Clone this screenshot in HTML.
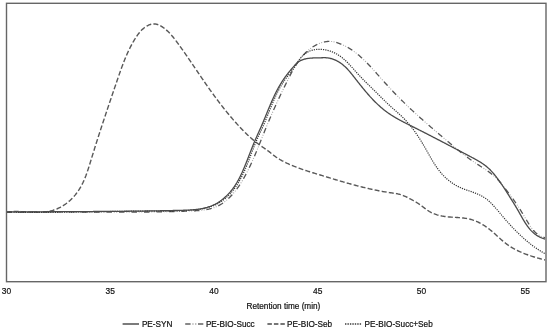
<!DOCTYPE html>
<html><head><meta charset="utf-8"><style>
html,body{margin:0;padding:0;background:#fff;}
svg{display:block;}
text{font-family:"Liberation Sans",Arial,sans-serif;fill:#111;stroke:#111;stroke-width:0.22;}
</style></head><body>
<svg width="550" height="330" viewBox="0 0 550 330">
<rect x="0" y="0" width="550" height="330" fill="#fff"/>
<g fill="none" stroke-linejoin="round">
<path d="M6.50,212.10 L7.19,212.01 L7.89,211.92 L8.59,211.85 L9.28,211.78 L9.98,211.72 L10.68,211.67 L11.38,211.62 L12.08,211.59 L12.78,211.56 L13.48,211.53 L14.18,211.51 L14.88,211.50 L15.58,211.49 L16.28,211.49 L16.98,211.49 L17.68,211.50 L18.38,211.51 L19.08,211.52 L19.78,211.54 L20.48,211.56 L21.18,211.58 L21.88,211.61 L22.58,211.64 L23.28,211.67 L23.98,211.70 L24.68,211.73 L25.38,211.76 L26.08,211.80 L26.78,211.83 L27.48,211.87 L28.18,211.90 L28.88,211.93 L29.58,211.97 L30.28,212.00 L30.98,212.03 L31.68,212.05 L32.38,212.08 L33.08,212.10 L33.78,212.13 L34.48,212.14 L35.18,212.16 L35.88,212.17 L36.58,212.18 L37.28,212.18 L37.98,212.18 L38.68,212.17 L39.38,212.16 L40.08,212.14 L40.78,212.12 L41.48,212.09 L42.18,212.05 L42.88,212.01 L43.58,211.96 L44.28,211.90 L44.98,211.84 L45.67,211.76 L46.37,211.68 L47.06,211.59 L47.76,211.49 L48.45,211.37 L49.14,211.25 L49.82,211.12 L50.51,210.97 L51.19,210.81 L51.87,210.63 L52.54,210.45 L53.22,210.25 L53.88,210.03 L54.55,209.81 L55.21,209.57 L55.86,209.32 L56.51,209.06 L57.16,208.79 L57.80,208.51 L58.43,208.22 L59.07,207.91 L59.69,207.60 L60.31,207.28 L60.93,206.95 L61.54,206.60 L62.15,206.25 L62.75,205.89 L63.34,205.52 L63.93,205.14 L64.51,204.75 L65.09,204.35 L65.66,203.95 L66.23,203.54 L66.79,203.11 L67.34,202.68 L67.89,202.24 L68.43,201.80 L68.96,201.35 L69.49,200.88 L70.01,200.42 L70.52,199.94 L71.03,199.46 L71.53,198.97 L72.03,198.47 L72.52,197.97 L73.00,197.46 L73.47,196.95 L73.94,196.43 L74.40,195.90 L74.85,195.36 L75.30,194.83 L75.74,194.28 L76.17,193.73 L76.60,193.17 L77.02,192.61 L77.43,192.05 L77.84,191.47 L78.23,190.90 L78.62,190.32 L79.01,189.73 L79.38,189.14 L79.75,188.54 L80.11,187.94 L80.47,187.34 L80.82,186.73 L81.16,186.12 L81.49,185.50 L81.82,184.88 L82.14,184.26 L82.45,183.63 L82.76,183.01 L83.06,182.37 L83.36,181.74 L83.65,181.10 L83.94,180.46 L84.22,179.82 L84.49,179.18 L84.76,178.53 L85.03,177.88 L85.29,177.23 L85.54,176.58 L85.80,175.93 L86.04,175.27 L86.29,174.61 L86.53,173.96 L86.77,173.30 L87.00,172.64 L87.23,171.97 L87.46,171.31 L87.68,170.65 L87.90,169.98 L88.12,169.32 L88.34,168.65 L88.55,167.99 L88.77,167.32 L88.98,166.65 L89.19,165.98 L89.40,165.31 L89.61,164.64 L89.81,163.98 L90.02,163.31 L90.22,162.64 L90.43,161.97 L90.63,161.30 L90.84,160.63 L91.04,159.96 L91.25,159.29 L91.45,158.62 L91.66,157.95 L91.86,157.28 L92.07,156.61 L92.27,155.94 L92.48,155.27 L92.69,154.60 L92.90,153.93 L93.10,153.26 L93.31,152.59 L93.52,151.92 L93.73,151.25 L93.94,150.59 L94.15,149.92 L94.35,149.25 L94.56,148.58 L94.77,147.91 L94.98,147.24 L95.19,146.58 L95.41,145.91 L95.62,145.24 L95.83,144.57 L96.04,143.90 L96.25,143.24 L96.46,142.57 L96.68,141.90 L96.89,141.23 L97.10,140.57 L97.31,139.90 L97.53,139.23 L97.74,138.56 L97.95,137.90 L98.17,137.23 L98.38,136.56 L98.60,135.90 L98.81,135.23 L99.03,134.56 L99.24,133.90 L99.46,133.23 L99.67,132.56 L99.89,131.90 L100.11,131.23 L100.32,130.56 L100.54,129.90 L100.76,129.23 L100.97,128.57 L101.19,127.90 L101.41,127.24 L101.63,126.57 L101.85,125.90 L102.06,125.24 L102.28,124.57 L102.50,123.91 L102.72,123.24 L102.94,122.58 L103.16,121.91 L103.38,121.25 L103.60,120.58 L103.82,119.92 L104.04,119.25 L104.26,118.59 L104.48,117.92 L104.70,117.26 L104.92,116.59 L105.14,115.93 L105.36,115.26 L105.58,114.60 L105.80,113.93 L106.03,113.27 L106.25,112.60 L106.47,111.94 L106.69,111.27 L106.91,110.61 L107.14,109.95 L107.36,109.28 L107.58,108.62 L107.81,107.95 L108.03,107.29 L108.25,106.63 L108.48,105.96 L108.70,105.30 L108.92,104.63 L109.15,103.97 L109.37,103.31 L109.59,102.64 L109.82,101.98 L110.04,101.32 L110.27,100.65 L110.49,99.99 L110.72,99.32 L110.94,98.66 L111.17,98.00 L111.39,97.33 L111.62,96.67 L111.84,96.01 L112.07,95.34 L112.29,94.68 L112.52,94.02 L112.74,93.36 L112.97,92.69 L113.20,92.03 L113.42,91.37 L113.65,90.70 L113.87,90.04 L114.10,89.38 L114.33,88.71 L114.55,88.05 L114.78,87.39 L115.01,86.73 L115.23,86.06 L115.46,85.40 L115.69,84.74 L115.91,84.07 L116.14,83.41 L116.37,82.75 L116.59,82.09 L116.82,81.42 L117.05,80.76 L117.28,80.10 L117.50,79.44 L117.73,78.77 L117.96,78.11 L118.19,77.45 L118.41,76.79 L118.64,76.12 L118.87,75.46 L119.10,74.80 L119.33,74.14 L119.56,73.48 L119.79,72.82 L120.03,72.15 L120.26,71.49 L120.49,70.83 L120.73,70.17 L120.96,69.51 L121.20,68.86 L121.44,68.20 L121.68,67.54 L121.92,66.88 L122.16,66.22 L122.41,65.57 L122.66,64.91 L122.90,64.26 L123.15,63.60 L123.40,62.95 L123.66,62.29 L123.91,61.64 L124.17,60.99 L124.43,60.34 L124.69,59.69 L124.95,59.04 L125.22,58.39 L125.49,57.75 L125.76,57.10 L126.03,56.45 L126.31,55.81 L126.58,55.17 L126.87,54.53 L127.15,53.89 L127.44,53.25 L127.73,52.61 L128.02,51.97 L128.31,51.34 L128.61,50.70 L128.91,50.07 L129.22,49.44 L129.52,48.81 L129.84,48.18 L130.15,47.56 L130.47,46.93 L130.79,46.31 L131.11,45.69 L131.44,45.07 L131.78,44.45 L132.11,43.84 L132.45,43.23 L132.79,42.62 L133.14,42.01 L133.49,41.40 L133.85,40.80 L134.20,40.20 L134.57,39.60 L134.93,39.00 L135.30,38.40 L135.68,37.81 L136.06,37.22 L136.45,36.64 L136.84,36.06 L137.24,35.48 L137.64,34.91 L138.05,34.35 L138.48,33.79 L138.90,33.23 L139.34,32.69 L139.79,32.15 L140.25,31.62 L140.72,31.10 L141.19,30.58 L141.68,30.08 L142.19,29.59 L142.70,29.12 L143.22,28.65 L143.76,28.20 L144.31,27.76 L144.87,27.34 L145.44,26.94 L146.02,26.55 L146.62,26.19 L147.23,25.84 L147.85,25.51 L148.48,25.21 L149.12,24.94 L149.78,24.69 L150.44,24.47 L151.12,24.29 L151.81,24.14 L152.50,24.03 L153.19,23.96 L153.89,23.93 L154.59,23.96 L155.29,24.03 L155.98,24.14 L156.67,24.29 L157.34,24.48 L158.00,24.71 L158.66,24.96 L159.30,25.24 L159.93,25.54 L160.55,25.86 L161.16,26.21 L161.76,26.57 L162.35,26.95 L162.93,27.34 L163.50,27.74 L164.07,28.16 L164.62,28.59 L165.17,29.03 L165.71,29.47 L166.24,29.93 L166.77,30.39 L167.29,30.86 L167.80,31.34 L168.30,31.82 L168.80,32.32 L169.29,32.81 L169.78,33.32 L170.26,33.83 L170.73,34.35 L171.20,34.87 L171.66,35.40 L172.11,35.93 L172.56,36.47 L173.01,37.01 L173.45,37.55 L173.89,38.10 L174.32,38.65 L174.75,39.20 L175.18,39.76 L175.60,40.32 L176.02,40.88 L176.44,41.44 L176.86,42.00 L177.28,42.56 L177.69,43.13 L178.11,43.69 L178.52,44.26 L178.93,44.82 L179.34,45.39 L179.75,45.96 L180.16,46.53 L180.57,47.10 L180.98,47.66 L181.39,48.23 L181.79,48.81 L182.20,49.38 L182.60,49.95 L183.01,50.52 L183.41,51.09 L183.81,51.67 L184.22,52.24 L184.62,52.81 L185.02,53.39 L185.42,53.96 L185.82,54.54 L186.22,55.12 L186.61,55.69 L187.01,56.27 L187.41,56.85 L187.81,57.42 L188.20,58.00 L188.60,58.58 L188.99,59.16 L189.39,59.73 L189.78,60.31 L190.18,60.89 L190.57,61.47 L190.97,62.05 L191.36,62.63 L191.75,63.21 L192.15,63.79 L192.54,64.37 L192.93,64.95 L193.33,65.53 L193.72,66.11 L194.11,66.69 L194.50,67.27 L194.90,67.85 L195.29,68.43 L195.68,69.01 L196.07,69.59 L196.46,70.17 L196.86,70.75 L197.25,71.33 L197.64,71.91 L198.03,72.49 L198.43,73.07 L198.82,73.65 L199.21,74.23 L199.61,74.81 L200.00,75.39 L200.39,75.97 L200.79,76.55 L201.18,77.13 L201.57,77.71 L201.97,78.29 L202.36,78.87 L202.76,79.44 L203.16,80.02 L203.55,80.60 L203.95,81.18 L204.35,81.75 L204.74,82.33 L205.14,82.91 L205.54,83.48 L205.94,84.06 L206.34,84.63 L206.74,85.21 L207.14,85.78 L207.54,86.36 L207.94,86.93 L208.35,87.51 L208.75,88.08 L209.15,88.65 L209.56,89.22 L209.96,89.79 L210.37,90.36 L210.78,90.93 L211.18,91.50 L211.59,92.07 L212.00,92.64 L212.41,93.21 L212.82,93.78 L213.23,94.35 L213.64,94.91 L214.06,95.48 L214.47,96.04 L214.88,96.61 L215.30,97.17 L215.72,97.74 L216.13,98.30 L216.55,98.86 L216.97,99.42 L217.39,99.98 L217.81,100.54 L218.23,101.10 L218.65,101.66 L219.08,102.22 L219.50,102.78 L219.92,103.34 L220.35,103.89 L220.78,104.45 L221.21,105.00 L221.63,105.56 L222.06,106.11 L222.50,106.66 L222.93,107.21 L223.36,107.76 L223.79,108.31 L224.23,108.86 L224.67,109.41 L225.10,109.96 L225.54,110.50 L225.98,111.05 L226.42,111.59 L226.86,112.14 L227.31,112.68 L227.75,113.22 L228.20,113.76 L228.64,114.30 L229.09,114.84 L229.54,115.38 L229.99,115.92 L230.44,116.45 L230.89,116.99 L231.34,117.52 L231.80,118.05 L232.26,118.59 L232.71,119.12 L233.17,119.65 L233.63,120.17 L234.09,120.70 L234.55,121.23 L235.02,121.75 L235.48,122.28 L235.95,122.80 L236.42,123.32 L236.88,123.84 L237.35,124.36 L237.83,124.88 L238.30,125.40 L238.77,125.91 L239.25,126.43 L239.73,126.94 L240.21,127.45 L240.69,127.96 L241.17,128.47 L241.65,128.98 L242.14,129.48 L242.62,129.98 L243.11,130.48 L243.60,130.98 L244.10,131.48 L244.59,131.98 L245.09,132.47 L245.59,132.96 L246.09,133.45 L246.59,133.94 L247.10,134.43 L247.61,134.91 L248.12,135.39 L248.63,135.87 L249.14,136.34 L249.66,136.81 L250.18,137.29 L250.70,137.75 L251.22,138.22 L251.75,138.68 L252.28,139.14 L252.81,139.60 L253.34,140.05 L253.88,140.50 L254.42,140.95 L254.96,141.39 L255.51,141.83 L256.05,142.27 L256.61,142.70 L257.16,143.13 L257.71,143.56 L258.27,143.98 L258.83,144.40 L259.40,144.81 L259.96,145.23 L260.53,145.63 L261.11,146.04 L261.68,146.44 L262.26,146.84 L262.83,147.24 L263.41,147.63 L263.99,148.03 L264.57,148.42 L265.14,148.82 L265.72,149.22 L266.29,149.62 L266.87,150.02 L267.44,150.43 L268.00,150.84 L268.57,151.26 L269.12,151.68 L269.68,152.11 L270.23,152.54 L270.77,152.98 L271.32,153.43 L271.86,153.87 L272.40,154.31 L272.95,154.75 L273.50,155.18 L274.06,155.61 L274.62,156.03 L275.18,156.44 L275.76,156.84 L276.33,157.24 L276.92,157.63 L277.50,158.01 L278.09,158.39 L278.69,158.76 L279.29,159.12 L279.89,159.48 L280.49,159.84 L281.10,160.18 L281.71,160.53 L282.33,160.86 L282.94,161.19 L283.56,161.52 L284.18,161.85 L284.81,162.16 L285.43,162.48 L286.06,162.79 L286.69,163.09 L287.32,163.40 L287.96,163.69 L288.60,163.99 L289.23,164.28 L289.87,164.56 L290.51,164.84 L291.16,165.12 L291.80,165.39 L292.45,165.66 L293.10,165.93 L293.75,166.19 L294.40,166.46 L295.05,166.71 L295.70,166.97 L296.35,167.22 L297.01,167.47 L297.67,167.71 L298.32,167.95 L298.98,168.19 L299.64,168.43 L300.30,168.67 L300.96,168.90 L301.62,169.13 L302.28,169.36 L302.95,169.58 L303.61,169.81 L304.28,170.03 L304.94,170.25 L305.61,170.47 L306.27,170.68 L306.94,170.90 L307.61,171.11 L308.27,171.33 L308.94,171.54 L309.61,171.75 L310.28,171.96 L310.95,172.17 L311.62,172.37 L312.28,172.58 L312.95,172.79 L313.62,172.99 L314.29,173.20 L314.96,173.40 L315.63,173.60 L316.30,173.81 L316.97,174.01 L317.64,174.22 L318.31,174.42 L318.99,174.62 L319.66,174.83 L320.33,175.03 L321.00,175.24 L321.67,175.44 L322.34,175.64 L323.01,175.85 L323.68,176.05 L324.35,176.26 L325.02,176.46 L325.69,176.67 L326.36,176.87 L327.03,177.07 L327.70,177.28 L328.37,177.48 L329.04,177.69 L329.71,177.89 L330.38,178.09 L331.05,178.30 L331.72,178.50 L332.39,178.70 L333.06,178.90 L333.73,179.11 L334.40,179.31 L335.07,179.51 L335.74,179.71 L336.41,179.91 L337.09,180.11 L337.76,180.31 L338.43,180.51 L339.10,180.71 L339.77,180.91 L340.44,181.10 L341.12,181.30 L341.79,181.50 L342.46,181.69 L343.13,181.89 L343.81,182.08 L344.48,182.28 L345.15,182.47 L345.83,182.66 L346.50,182.86 L347.17,183.05 L347.85,183.24 L348.52,183.43 L349.20,183.62 L349.87,183.80 L350.55,183.99 L351.22,184.18 L351.90,184.36 L352.57,184.55 L353.25,184.73 L353.93,184.91 L354.60,185.10 L355.28,185.28 L355.96,185.46 L356.63,185.64 L357.31,185.81 L357.99,185.99 L358.67,186.17 L359.35,186.34 L360.02,186.51 L360.70,186.69 L361.38,186.86 L362.06,187.03 L362.74,187.20 L363.42,187.36 L364.10,187.53 L364.78,187.69 L365.46,187.86 L366.15,188.02 L366.83,188.18 L367.51,188.34 L368.19,188.50 L368.87,188.65 L369.56,188.81 L370.24,188.96 L370.93,189.12 L371.61,189.27 L372.29,189.42 L372.98,189.56 L373.66,189.71 L374.35,189.85 L375.03,190.00 L375.72,190.14 L376.41,190.28 L377.09,190.42 L377.78,190.55 L378.47,190.69 L379.16,190.82 L379.84,190.95 L380.53,191.08 L381.22,191.21 L381.91,191.33 L382.60,191.46 L383.29,191.58 L383.98,191.70 L384.67,191.82 L385.36,191.93 L386.05,192.05 L386.74,192.16 L387.44,192.27 L388.13,192.38 L388.82,192.48 L389.51,192.59 L390.21,192.69 L390.90,192.79 L391.59,192.89 L392.29,192.99 L392.98,193.08 L393.67,193.19 L394.37,193.29 L395.06,193.40 L395.75,193.51 L396.44,193.63 L397.13,193.77 L397.81,193.91 L398.50,194.06 L399.18,194.23 L399.85,194.41 L400.53,194.60 L401.19,194.82 L401.86,195.04 L402.52,195.28 L403.17,195.53 L403.82,195.80 L404.46,196.07 L405.10,196.35 L405.74,196.64 L406.38,196.94 L407.01,197.25 L407.63,197.56 L408.26,197.88 L408.88,198.20 L409.50,198.52 L410.12,198.84 L410.74,199.17 L411.36,199.50 L411.98,199.84 L412.59,200.17 L413.20,200.51 L413.82,200.85 L414.42,201.20 L415.03,201.55 L415.63,201.91 L416.23,202.27 L416.83,202.63 L417.43,203.00 L418.02,203.38 L418.60,203.76 L419.18,204.16 L419.76,204.55 L420.33,204.96 L420.90,205.37 L421.46,205.78 L422.03,206.20 L422.58,206.62 L423.14,207.05 L423.70,207.47 L424.26,207.90 L424.82,208.32 L425.38,208.74 L425.94,209.15 L426.51,209.57 L427.08,209.97 L427.65,210.37 L428.24,210.76 L428.82,211.14 L429.42,211.51 L430.02,211.86 L430.64,212.21 L431.25,212.53 L431.88,212.85 L432.52,213.14 L433.16,213.43 L433.80,213.70 L434.45,213.96 L435.11,214.20 L435.77,214.43 L436.44,214.65 L437.11,214.86 L437.78,215.05 L438.46,215.23 L439.13,215.41 L439.82,215.57 L440.50,215.72 L441.19,215.86 L441.87,216.00 L442.56,216.12 L443.25,216.24 L443.95,216.35 L444.64,216.45 L445.33,216.54 L446.03,216.63 L446.72,216.71 L447.42,216.79 L448.12,216.86 L448.81,216.93 L449.51,216.99 L450.21,217.05 L450.91,217.10 L451.61,217.15 L452.31,217.20 L453.00,217.25 L453.70,217.29 L454.40,217.34 L455.10,217.38 L455.80,217.42 L456.50,217.46 L457.20,217.51 L457.90,217.56 L458.60,217.60 L459.30,217.65 L459.99,217.71 L460.69,217.77 L461.39,217.83 L462.09,217.90 L462.78,217.97 L463.48,218.05 L464.18,218.13 L464.87,218.22 L465.56,218.32 L466.26,218.43 L466.95,218.55 L467.64,218.67 L468.32,218.81 L469.01,218.96 L469.69,219.11 L470.37,219.28 L471.05,219.47 L471.72,219.66 L472.39,219.86 L473.05,220.08 L473.72,220.31 L474.38,220.55 L475.03,220.80 L475.68,221.06 L476.33,221.33 L476.97,221.61 L477.61,221.90 L478.24,222.19 L478.87,222.50 L479.50,222.82 L480.12,223.14 L480.73,223.48 L481.34,223.82 L481.95,224.17 L482.55,224.53 L483.15,224.89 L483.75,225.26 L484.34,225.64 L484.92,226.02 L485.50,226.41 L486.08,226.81 L486.65,227.22 L487.22,227.63 L487.78,228.04 L488.34,228.46 L488.90,228.89 L489.45,229.32 L490.00,229.75 L490.54,230.20 L491.09,230.64 L491.62,231.09 L492.16,231.54 L492.69,232.00 L493.22,232.46 L493.74,232.92 L494.27,233.39 L494.79,233.85 L495.31,234.32 L495.83,234.79 L496.35,235.26 L496.87,235.73 L497.39,236.20 L497.91,236.67 L498.42,237.14 L498.94,237.62 L499.46,238.08 L499.99,238.55 L500.51,239.02 L501.03,239.48 L501.56,239.94 L502.09,240.40 L502.62,240.86 L503.16,241.31 L503.70,241.76 L504.24,242.20 L504.78,242.64 L505.33,243.07 L505.89,243.50 L506.45,243.92 L507.01,244.34 L507.58,244.75 L508.15,245.15 L508.73,245.55 L509.31,245.94 L509.90,246.32 L510.49,246.70 L511.08,247.07 L511.68,247.43 L512.28,247.79 L512.89,248.14 L513.50,248.49 L514.11,248.83 L514.73,249.16 L515.35,249.49 L515.97,249.81 L516.59,250.13 L517.22,250.44 L517.85,250.75 L518.48,251.05 L519.12,251.34 L519.76,251.63 L520.39,251.92 L521.04,252.20 L521.68,252.48 L522.33,252.75 L522.97,253.02 L523.62,253.28 L524.27,253.54 L524.93,253.79 L525.58,254.04 L526.24,254.29 L526.89,254.53 L527.55,254.77 L528.21,255.00 L528.87,255.23 L529.54,255.46 L530.20,255.68 L530.87,255.91 L531.53,256.12 L532.20,256.34 L532.87,256.55 L533.53,256.76 L534.20,256.96 L534.87,257.17 L535.55,257.37 L536.22,257.57 L536.89,257.76 L537.56,257.96 L538.24,258.15 L538.91,258.34 L539.59,258.53 L540.26,258.72 L540.94,258.90 L541.61,259.08 L542.29,259.27 L542.97,259.45 L543.64,259.63 L544.32,259.80 L545.00,259.98" stroke="#585858" stroke-width="1.4" stroke-dasharray="5 2.2"/>
<path d="M6.49,212.31 L7.19,212.29 L7.89,212.28 L8.59,212.27 L9.29,212.25 L9.99,212.24 L10.69,212.23 L11.39,212.22 L12.09,212.20 L12.79,212.19 L13.49,212.18 L14.19,212.17 L14.89,212.16 L15.59,212.15 L16.29,212.14 L16.99,212.13 L17.69,212.12 L18.39,212.11 L19.09,212.10 L19.79,212.09 L20.49,212.08 L21.19,212.07 L21.89,212.06 L22.59,212.06 L23.29,212.05 L23.99,212.04 L24.69,212.03 L25.39,212.03 L26.09,212.02 L26.79,212.01 L27.49,212.01 L28.19,212.00 L28.89,212.00 L29.59,211.99 L30.29,211.98 L30.99,211.98 L31.69,211.97 L32.39,211.97 L33.09,211.96 L33.79,211.96 L34.49,211.96 L35.19,211.95 L35.89,211.95 L36.59,211.94 L37.29,211.94 L37.99,211.94 L38.69,211.93 L39.39,211.93 L40.09,211.93 L40.79,211.93 L41.49,211.92 L42.20,211.92 L42.90,211.92 L43.60,211.92 L44.30,211.92 L45.00,211.92 L45.70,211.91 L46.40,211.91 L47.10,211.91 L47.80,211.91 L48.50,211.91 L49.20,211.91 L49.90,211.91 L50.60,211.91 L51.30,211.91 L52.00,211.91 L52.70,211.91 L53.40,211.91 L54.10,211.91 L54.80,211.91 L55.50,211.91 L56.20,211.91 L56.90,211.91 L57.60,211.92 L58.30,211.92 L59.00,211.92 L59.70,211.92 L60.40,211.92 L61.10,211.92 L61.80,211.92 L62.50,211.93 L63.20,211.93 L63.90,211.93 L64.60,211.93 L65.30,211.93 L66.00,211.94 L66.70,211.94 L67.40,211.94 L68.10,211.94 L68.80,211.95 L69.50,211.95 L70.20,211.95 L70.90,211.95 L71.60,211.96 L72.30,211.96 L73.00,211.96 L73.70,211.97 L74.40,211.97 L75.10,211.97 L75.80,211.97 L76.50,211.98 L77.20,211.98 L77.90,211.98 L78.60,211.99 L79.30,211.99 L80.00,211.99 L80.70,212.00 L81.40,212.00 L82.10,212.00 L82.80,212.01 L83.50,212.01 L84.20,212.01 L84.90,212.02 L85.60,212.02 L86.30,212.02 L87.00,212.03 L87.70,212.03 L88.40,212.03 L89.10,212.04 L89.80,212.04 L90.50,212.04 L91.20,212.05 L91.90,212.05 L92.60,212.05 L93.30,212.06 L94.00,212.06 L94.70,212.06 L95.40,212.07 L96.10,212.07 L96.80,212.07 L97.50,212.08 L98.20,212.08 L98.90,212.08 L99.60,212.09 L100.30,212.09 L101.00,212.09 L101.70,212.09 L102.40,212.10 L103.10,212.10 L103.80,212.10 L104.50,212.10 L105.20,212.11 L105.91,212.11 L106.61,212.11 L107.31,212.11 L108.01,212.11 L108.71,212.12 L109.41,212.12 L110.11,212.12 L110.81,212.12 L111.51,212.12 L112.21,212.13 L112.91,212.13 L113.61,212.13 L114.31,212.13 L115.01,212.13 L115.71,212.13 L116.41,212.13 L117.11,212.13 L117.81,212.13 L118.51,212.13 L119.21,212.13 L119.91,212.13 L120.61,212.13 L121.31,212.13 L122.01,212.13 L122.71,212.13 L123.41,212.13 L124.11,212.13 L124.81,212.13 L125.51,212.13 L126.21,212.13 L126.91,212.13 L127.61,212.13 L128.31,212.12 L129.01,212.12 L129.71,212.12 L130.41,212.12 L131.11,212.11 L131.81,212.11 L132.51,212.11 L133.21,212.11 L133.91,212.10 L134.61,212.10 L135.31,212.10 L136.01,212.09 L136.71,212.09 L137.41,212.08 L138.11,212.08 L138.81,212.08 L139.51,212.07 L140.21,212.07 L140.91,212.06 L141.61,212.06 L142.31,212.05 L143.01,212.04 L143.71,212.04 L144.41,212.03 L145.11,212.03 L145.81,212.02 L146.51,212.01 L147.21,212.00 L147.91,212.00 L148.61,211.99 L149.31,211.98 L150.01,211.97 L150.71,211.96 L151.41,211.96 L152.11,211.95 L152.81,211.94 L153.51,211.93 L154.21,211.92 L154.91,211.91 L155.61,211.90 L156.31,211.89 L157.01,211.88 L157.71,211.86 L158.41,211.85 L159.11,211.84 L159.81,211.83 L160.51,211.82 L161.21,211.80 L161.91,211.79 L162.61,211.78 L163.31,211.76 L164.01,211.75 L164.71,211.74 L165.41,211.72 L166.11,211.71 L166.81,211.69 L167.51,211.68 L168.21,211.66 L168.91,211.65 L169.61,211.63 L170.31,211.61 L171.01,211.60 L171.71,211.58 L172.41,211.56 L173.11,211.54 L173.81,211.52 L174.51,211.51 L175.21,211.49 L175.91,211.47 L176.61,211.45 L177.31,211.43 L178.01,211.41 L178.71,211.39 L179.41,211.36 L180.11,211.34 L180.81,211.32 L181.51,211.30 L182.21,211.28 L182.91,211.25 L183.61,211.23 L184.31,211.21 L185.01,211.18 L185.71,211.16 L186.41,211.13 L187.11,211.11 L187.81,211.08 L188.51,211.06 L189.21,211.03 L189.91,211.00 L190.60,210.98 L191.30,210.95 L192.00,210.92 L192.70,210.89 L193.40,210.86 L194.10,210.83 L194.80,210.79 L195.50,210.75 L196.20,210.71 L196.90,210.67 L197.60,210.62 L198.30,210.57 L198.99,210.52 L199.69,210.46 L200.39,210.39 L201.08,210.33 L201.78,210.25 L202.48,210.17 L203.17,210.09 L203.87,210.00 L204.56,209.90 L205.25,209.79 L205.94,209.68 L206.63,209.56 L207.32,209.43 L208.01,209.29 L208.69,209.15 L209.37,208.99 L210.05,208.83 L210.73,208.65 L211.41,208.47 L212.08,208.27 L212.75,208.07 L213.41,207.85 L214.08,207.62 L214.73,207.38 L215.39,207.13 L216.04,206.87 L216.68,206.59 L217.32,206.30 L217.95,206.00 L218.57,205.68 L219.19,205.35 L219.80,205.01 L220.41,204.66 L221.01,204.30 L221.60,203.93 L222.19,203.55 L222.77,203.15 L223.34,202.75 L223.91,202.34 L224.47,201.92 L225.02,201.49 L225.57,201.05 L226.11,200.61 L226.64,200.16 L227.17,199.70 L227.69,199.23 L228.21,198.76 L228.72,198.28 L229.23,197.80 L229.73,197.31 L230.22,196.81 L230.71,196.31 L231.19,195.80 L231.67,195.29 L232.14,194.77 L232.60,194.25 L233.06,193.72 L233.52,193.19 L233.97,192.65 L234.42,192.11 L234.86,191.57 L235.29,191.02 L235.72,190.47 L236.15,189.91 L236.57,189.35 L236.99,188.79 L237.40,188.23 L237.81,187.66 L238.21,187.09 L238.61,186.51 L239.01,185.93 L239.40,185.35 L239.78,184.77 L240.16,184.18 L240.54,183.59 L240.92,183.00 L241.29,182.40 L241.65,181.81 L242.02,181.21 L242.38,180.61 L242.73,180.01 L243.09,179.40 L243.44,178.79 L243.78,178.19 L244.13,177.58 L244.47,176.97 L244.80,176.35 L245.14,175.74 L245.47,175.12 L245.80,174.50 L246.13,173.89 L246.46,173.27 L246.78,172.65 L247.10,172.02 L247.42,171.40 L247.74,170.77 L248.05,170.15 L248.36,169.52 L248.67,168.89 L248.98,168.27 L249.29,167.64 L249.59,167.00 L249.89,166.37 L250.19,165.74 L250.49,165.11 L250.78,164.47 L251.08,163.84 L251.37,163.20 L251.66,162.56 L251.95,161.93 L252.24,161.29 L252.52,160.65 L252.81,160.01 L253.09,159.37 L253.37,158.73 L253.65,158.09 L253.93,157.44 L254.21,156.80 L254.49,156.16 L254.76,155.51 L255.04,154.87 L255.31,154.23 L255.58,153.58 L255.85,152.94 L256.12,152.29 L256.39,151.64 L256.66,151.00 L256.93,150.35 L257.19,149.70 L257.46,149.05 L257.72,148.41 L257.99,147.76 L258.25,147.11 L258.51,146.46 L258.78,145.81 L259.04,145.16 L259.30,144.51 L259.56,143.86 L259.82,143.21 L260.08,142.56 L260.34,141.91 L260.60,141.26 L260.86,140.61 L261.12,139.96 L261.38,139.31 L261.64,138.66 L261.90,138.01 L262.16,137.36 L262.42,136.71 L262.68,136.06 L262.94,135.41 L263.20,134.76 L263.46,134.11 L263.72,133.46 L263.98,132.81 L264.24,132.16 L264.50,131.51 L264.76,130.86 L265.03,130.21 L265.29,129.56 L265.55,128.92 L265.82,128.27 L266.08,127.62 L266.35,126.97 L266.61,126.32 L266.88,125.68 L267.15,125.03 L267.42,124.38 L267.69,123.74 L267.96,123.09 L268.23,122.45 L268.50,121.80 L268.77,121.16 L269.04,120.51 L269.32,119.87 L269.59,119.22 L269.87,118.58 L270.14,117.93 L270.42,117.29 L270.70,116.65 L270.97,116.01 L271.25,115.36 L271.53,114.72 L271.81,114.08 L272.09,113.44 L272.37,112.80 L272.65,112.16 L272.93,111.51 L273.22,110.87 L273.50,110.23 L273.78,109.59 L274.07,108.95 L274.36,108.32 L274.64,107.68 L274.93,107.04 L275.22,106.40 L275.50,105.76 L275.79,105.12 L276.08,104.49 L276.37,103.85 L276.66,103.21 L276.95,102.58 L277.25,101.94 L277.54,101.30 L277.83,100.67 L278.13,100.03 L278.42,99.40 L278.72,98.76 L279.01,98.13 L279.31,97.49 L279.61,96.86 L279.90,96.23 L280.20,95.59 L280.50,94.96 L280.80,94.33 L281.10,93.69 L281.40,93.06 L281.70,92.43 L282.01,91.80 L282.31,91.17 L282.61,90.54 L282.92,89.91 L283.22,89.28 L283.53,88.65 L283.83,88.02 L284.14,87.39 L284.45,86.76 L284.75,86.13 L285.06,85.50 L285.37,84.87 L285.68,84.24 L285.99,83.62 L286.30,82.99 L286.61,82.36 L286.92,81.73 L287.24,81.11 L287.55,80.48 L287.86,79.86 L288.18,79.23 L288.49,78.60 L288.81,77.98 L289.12,77.35 L289.44,76.73 L289.76,76.11 L290.08,75.49 L290.40,74.86 L290.73,74.24 L291.05,73.62 L291.38,73.00 L291.71,72.39 L292.04,71.77 L292.38,71.16 L292.72,70.54 L293.06,69.93 L293.40,69.32 L293.75,68.71 L294.10,68.11 L294.45,67.50 L294.81,66.90 L295.17,66.30 L295.53,65.70 L295.90,65.11 L296.28,64.52 L296.65,63.93 L297.03,63.34 L297.42,62.76 L297.81,62.17 L298.21,61.60 L298.61,61.02 L299.02,60.45 L299.43,59.89 L299.85,59.33 L300.27,58.77 L300.70,58.21 L301.13,57.67 L301.57,57.12 L302.02,56.58 L302.47,56.05 L302.93,55.52 L303.40,55.00 L303.87,54.48 L304.35,53.97 L304.84,53.47 L305.33,52.97 L305.83,52.48 L306.33,51.99 L306.85,51.52 L307.37,51.05 L307.89,50.59 L308.42,50.13 L308.97,49.69 L309.51,49.25 L310.07,48.82 L310.63,48.40 L311.19,47.99 L311.77,47.59 L312.35,47.20 L312.93,46.82 L313.53,46.45 L314.13,46.08 L314.73,45.73 L315.34,45.39 L315.96,45.06 L316.58,44.74 L317.21,44.43 L317.84,44.13 L318.48,43.85 L319.13,43.57 L319.78,43.31 L320.43,43.07 L321.09,42.84 L321.76,42.62 L322.43,42.42 L323.11,42.23 L323.78,42.06 L324.47,41.91 L325.16,41.78 L325.85,41.66 L326.54,41.56 L327.23,41.48 L327.93,41.43 L328.63,41.39 L329.33,41.38 L330.03,41.39 L330.73,41.42 L331.43,41.47 L332.12,41.55 L332.82,41.65 L333.51,41.77 L334.19,41.90 L334.88,42.05 L335.56,42.22 L336.23,42.41 L336.90,42.61 L337.57,42.82 L338.24,43.04 L338.90,43.27 L339.55,43.52 L340.20,43.77 L340.85,44.03 L341.50,44.30 L342.14,44.58 L342.78,44.86 L343.42,45.16 L344.05,45.46 L344.68,45.77 L345.30,46.08 L345.92,46.41 L346.54,46.74 L347.15,47.08 L347.76,47.42 L348.37,47.77 L348.97,48.13 L349.57,48.50 L350.16,48.87 L350.75,49.25 L351.34,49.63 L351.92,50.02 L352.49,50.41 L353.07,50.82 L353.64,51.22 L354.21,51.63 L354.77,52.05 L355.33,52.47 L355.88,52.90 L356.43,53.33 L356.98,53.77 L357.52,54.21 L358.06,54.65 L358.60,55.10 L359.14,55.55 L359.67,56.01 L360.19,56.47 L360.72,56.94 L361.24,57.40 L361.76,57.87 L362.27,58.35 L362.78,58.83 L363.29,59.31 L363.80,59.79 L364.30,60.28 L364.80,60.77 L365.30,61.26 L365.80,61.75 L366.29,62.25 L366.78,62.75 L367.27,63.25 L367.76,63.75 L368.25,64.25 L368.73,64.76 L369.21,65.27 L369.69,65.78 L370.17,66.29 L370.65,66.80 L371.12,67.31 L371.60,67.83 L372.07,68.35 L372.54,68.86 L373.01,69.38 L373.48,69.90 L373.95,70.42 L374.42,70.94 L374.88,71.47 L375.35,71.99 L375.81,72.51 L376.28,73.04 L376.74,73.56 L377.21,74.08 L377.67,74.61 L378.13,75.13 L378.60,75.66 L379.06,76.18 L379.52,76.71 L379.99,77.23 L380.45,77.76 L380.92,78.28 L381.38,78.80 L381.85,79.33 L382.31,79.85 L382.78,80.37 L383.25,80.89 L383.72,81.41 L384.19,81.93 L384.65,82.45 L385.13,82.97 L385.60,83.49 L386.07,84.00 L386.54,84.52 L387.01,85.04 L387.49,85.55 L387.96,86.07 L388.44,86.58 L388.92,87.09 L389.39,87.60 L389.87,88.12 L390.35,88.63 L390.83,89.14 L391.31,89.65 L391.79,90.16 L392.27,90.66 L392.75,91.17 L393.24,91.68 L393.72,92.18 L394.21,92.69 L394.69,93.19 L395.18,93.70 L395.66,94.20 L396.15,94.70 L396.64,95.20 L397.13,95.70 L397.62,96.20 L398.11,96.70 L398.60,97.20 L399.09,97.70 L399.59,98.20 L400.08,98.69 L400.58,99.19 L401.07,99.68 L401.57,100.18 L402.06,100.67 L402.56,101.16 L403.06,101.66 L403.56,102.15 L404.06,102.64 L404.56,103.13 L405.06,103.62 L405.56,104.10 L406.06,104.59 L406.57,105.08 L407.07,105.56 L407.58,106.05 L408.08,106.53 L408.59,107.02 L409.10,107.50 L409.60,107.98 L410.11,108.46 L410.62,108.94 L411.13,109.42 L411.64,109.90 L412.16,110.38 L412.67,110.86 L413.18,111.33 L413.69,111.81 L414.21,112.28 L414.72,112.76 L415.24,113.23 L415.76,113.70 L416.27,114.18 L416.79,114.65 L417.31,115.12 L417.83,115.59 L418.35,116.06 L418.87,116.53 L419.39,116.99 L419.91,117.46 L420.43,117.93 L420.95,118.40 L421.47,118.86 L422.00,119.33 L422.52,119.79 L423.04,120.26 L423.57,120.72 L424.09,121.18 L424.62,121.65 L425.15,122.11 L425.67,122.57 L426.20,123.03 L426.73,123.49 L427.25,123.95 L427.78,124.41 L428.31,124.87 L428.84,125.33 L429.37,125.79 L429.90,126.25 L430.43,126.71 L430.96,127.16 L431.49,127.62 L432.02,128.08 L432.55,128.53 L433.08,128.99 L433.61,129.45 L434.14,129.90 L434.67,130.36 L435.21,130.81 L435.74,131.26 L436.27,131.72 L436.80,132.17 L437.34,132.63 L437.87,133.08 L438.40,133.53 L438.94,133.99 L439.47,134.44 L440.01,134.89 L440.54,135.34 L441.07,135.80 L441.61,136.25 L442.14,136.70 L442.68,137.15 L443.21,137.60 L443.75,138.06 L444.28,138.51 L444.82,138.96 L445.35,139.41 L445.89,139.86 L446.42,140.31 L446.96,140.76 L447.50,141.22 L448.03,141.67 L448.57,142.12 L449.10,142.57 L449.64,143.02 L450.17,143.47 L450.71,143.92 L451.24,144.37 L451.78,144.82 L452.32,145.27 L452.85,145.72 L453.39,146.17 L453.93,146.62 L454.47,147.07 L455.01,147.51 L455.54,147.96 L456.08,148.41 L456.62,148.85 L457.17,149.30 L457.71,149.74 L458.25,150.18 L458.79,150.62 L459.34,151.07 L459.88,151.50 L460.43,151.94 L460.97,152.38 L461.52,152.82 L462.07,153.25 L462.62,153.68 L463.17,154.12 L463.72,154.55 L464.28,154.97 L464.83,155.40 L465.39,155.83 L465.95,156.25 L466.50,156.67 L467.06,157.09 L467.63,157.51 L468.19,157.93 L468.75,158.34 L469.32,158.75 L469.89,159.16 L470.46,159.57 L471.03,159.98 L471.60,160.38 L472.17,160.78 L472.75,161.18 L473.32,161.58 L473.90,161.97 L474.48,162.36 L475.07,162.75 L475.65,163.14 L476.24,163.52 L476.82,163.90 L477.41,164.28 L478.00,164.66 L478.59,165.04 L479.18,165.42 L479.76,165.80 L480.35,166.18 L480.94,166.56 L481.53,166.94 L482.12,167.31 L482.71,167.70 L483.29,168.08 L483.88,168.46 L484.46,168.85 L485.05,169.23 L485.63,169.62 L486.21,170.02 L486.79,170.41 L487.36,170.81 L487.93,171.22 L488.50,171.62 L489.07,172.03 L489.63,172.45 L490.19,172.87 L490.75,173.29 L491.30,173.72 L491.85,174.16 L492.40,174.60 L492.93,175.05 L493.47,175.50 L494.00,175.96 L494.52,176.42 L495.04,176.90 L495.55,177.38 L496.05,177.86 L496.55,178.36 L497.04,178.85 L497.52,179.36 L498.00,179.87 L498.47,180.39 L498.94,180.91 L499.40,181.43 L499.86,181.96 L500.32,182.49 L500.77,183.03 L501.22,183.57 L501.66,184.11 L502.10,184.65 L502.54,185.20 L502.98,185.75 L503.41,186.30 L503.85,186.84 L504.28,187.39 L504.71,187.95 L505.14,188.50 L505.57,189.05 L506.00,189.60 L506.43,190.16 L506.86,190.71 L507.28,191.27 L507.71,191.82 L508.13,192.38 L508.55,192.94 L508.98,193.50 L509.40,194.06 L509.82,194.62 L510.23,195.18 L510.65,195.74 L511.07,196.31 L511.48,196.87 L511.89,197.44 L512.30,198.00 L512.71,198.57 L513.12,199.14 L513.53,199.71 L513.93,200.28 L514.34,200.85 L514.74,201.43 L515.14,202.00 L515.54,202.58 L515.93,203.15 L516.33,203.73 L516.72,204.31 L517.11,204.89 L517.50,205.47 L517.89,206.06 L518.27,206.64 L518.65,207.23 L519.03,207.82 L519.41,208.41 L519.79,209.00 L520.16,209.59 L520.54,210.18 L520.91,210.78 L521.27,211.37 L521.64,211.97 L522.01,212.56 L522.37,213.16 L522.73,213.76 L523.09,214.36 L523.45,214.96 L523.81,215.56 L524.17,216.16 L524.53,216.76 L524.89,217.37 L525.25,217.97 L525.60,218.57 L525.96,219.17 L526.32,219.77 L526.68,220.37 L527.04,220.98 L527.40,221.58 L527.76,222.18 L528.12,222.77 L528.49,223.37 L528.86,223.97 L529.23,224.56 L529.61,225.15 L529.99,225.73 L530.38,226.31 L530.78,226.89 L531.18,227.46 L531.60,228.03 L532.02,228.59 L532.45,229.14 L532.89,229.68 L533.34,230.22 L533.81,230.74 L534.28,231.25 L534.77,231.76 L535.27,232.25 L535.79,232.72 L536.31,233.18 L536.86,233.62 L537.41,234.05 L537.98,234.46 L538.56,234.85 L539.16,235.21 L539.77,235.56 L540.39,235.89 L541.02,236.19 L541.66,236.47 L542.31,236.72 L542.97,236.95 L543.64,237.16 L544.32,237.35 L545.00,237.51" stroke="#aaa" stroke-width="1.1" stroke-dasharray="1.0 1.4 1.0 9.10" stroke-dashoffset="5.20"/>
<path d="M6.49,212.31 L7.19,212.29 L7.89,212.28 L8.59,212.27 L9.29,212.25 L9.99,212.24 L10.69,212.23 L11.39,212.22 L12.09,212.20 L12.79,212.19 L13.49,212.18 L14.19,212.17 L14.89,212.16 L15.59,212.15 L16.29,212.14 L16.99,212.13 L17.69,212.12 L18.39,212.11 L19.09,212.10 L19.79,212.09 L20.49,212.08 L21.19,212.07 L21.89,212.06 L22.59,212.06 L23.29,212.05 L23.99,212.04 L24.69,212.03 L25.39,212.03 L26.09,212.02 L26.79,212.01 L27.49,212.01 L28.19,212.00 L28.89,212.00 L29.59,211.99 L30.29,211.98 L30.99,211.98 L31.69,211.97 L32.39,211.97 L33.09,211.96 L33.79,211.96 L34.49,211.96 L35.19,211.95 L35.89,211.95 L36.59,211.94 L37.29,211.94 L37.99,211.94 L38.69,211.93 L39.39,211.93 L40.09,211.93 L40.79,211.93 L41.49,211.92 L42.20,211.92 L42.90,211.92 L43.60,211.92 L44.30,211.92 L45.00,211.92 L45.70,211.91 L46.40,211.91 L47.10,211.91 L47.80,211.91 L48.50,211.91 L49.20,211.91 L49.90,211.91 L50.60,211.91 L51.30,211.91 L52.00,211.91 L52.70,211.91 L53.40,211.91 L54.10,211.91 L54.80,211.91 L55.50,211.91 L56.20,211.91 L56.90,211.91 L57.60,211.92 L58.30,211.92 L59.00,211.92 L59.70,211.92 L60.40,211.92 L61.10,211.92 L61.80,211.92 L62.50,211.93 L63.20,211.93 L63.90,211.93 L64.60,211.93 L65.30,211.93 L66.00,211.94 L66.70,211.94 L67.40,211.94 L68.10,211.94 L68.80,211.95 L69.50,211.95 L70.20,211.95 L70.90,211.95 L71.60,211.96 L72.30,211.96 L73.00,211.96 L73.70,211.97 L74.40,211.97 L75.10,211.97 L75.80,211.97 L76.50,211.98 L77.20,211.98 L77.90,211.98 L78.60,211.99 L79.30,211.99 L80.00,211.99 L80.70,212.00 L81.40,212.00 L82.10,212.00 L82.80,212.01 L83.50,212.01 L84.20,212.01 L84.90,212.02 L85.60,212.02 L86.30,212.02 L87.00,212.03 L87.70,212.03 L88.40,212.03 L89.10,212.04 L89.80,212.04 L90.50,212.04 L91.20,212.05 L91.90,212.05 L92.60,212.05 L93.30,212.06 L94.00,212.06 L94.70,212.06 L95.40,212.07 L96.10,212.07 L96.80,212.07 L97.50,212.08 L98.20,212.08 L98.90,212.08 L99.60,212.09 L100.30,212.09 L101.00,212.09 L101.70,212.09 L102.40,212.10 L103.10,212.10 L103.80,212.10 L104.50,212.10 L105.20,212.11 L105.91,212.11 L106.61,212.11 L107.31,212.11 L108.01,212.11 L108.71,212.12 L109.41,212.12 L110.11,212.12 L110.81,212.12 L111.51,212.12 L112.21,212.13 L112.91,212.13 L113.61,212.13 L114.31,212.13 L115.01,212.13 L115.71,212.13 L116.41,212.13 L117.11,212.13 L117.81,212.13 L118.51,212.13 L119.21,212.13 L119.91,212.13 L120.61,212.13 L121.31,212.13 L122.01,212.13 L122.71,212.13 L123.41,212.13 L124.11,212.13 L124.81,212.13 L125.51,212.13 L126.21,212.13 L126.91,212.13 L127.61,212.13 L128.31,212.12 L129.01,212.12 L129.71,212.12 L130.41,212.12 L131.11,212.11 L131.81,212.11 L132.51,212.11 L133.21,212.11 L133.91,212.10 L134.61,212.10 L135.31,212.10 L136.01,212.09 L136.71,212.09 L137.41,212.08 L138.11,212.08 L138.81,212.08 L139.51,212.07 L140.21,212.07 L140.91,212.06 L141.61,212.06 L142.31,212.05 L143.01,212.04 L143.71,212.04 L144.41,212.03 L145.11,212.03 L145.81,212.02 L146.51,212.01 L147.21,212.00 L147.91,212.00 L148.61,211.99 L149.31,211.98 L150.01,211.97 L150.71,211.96 L151.41,211.96 L152.11,211.95 L152.81,211.94 L153.51,211.93 L154.21,211.92 L154.91,211.91 L155.61,211.90 L156.31,211.89 L157.01,211.88 L157.71,211.86 L158.41,211.85 L159.11,211.84 L159.81,211.83 L160.51,211.82 L161.21,211.80 L161.91,211.79 L162.61,211.78 L163.31,211.76 L164.01,211.75 L164.71,211.74 L165.41,211.72 L166.11,211.71 L166.81,211.69 L167.51,211.68 L168.21,211.66 L168.91,211.65 L169.61,211.63 L170.31,211.61 L171.01,211.60 L171.71,211.58 L172.41,211.56 L173.11,211.54 L173.81,211.52 L174.51,211.51 L175.21,211.49 L175.91,211.47 L176.61,211.45 L177.31,211.43 L178.01,211.41 L178.71,211.39 L179.41,211.36 L180.11,211.34 L180.81,211.32 L181.51,211.30 L182.21,211.28 L182.91,211.25 L183.61,211.23 L184.31,211.21 L185.01,211.18 L185.71,211.16 L186.41,211.13 L187.11,211.11 L187.81,211.08 L188.51,211.06 L189.21,211.03 L189.91,211.00 L190.60,210.98 L191.30,210.95 L192.00,210.92 L192.70,210.89 L193.40,210.86 L194.10,210.83 L194.80,210.79 L195.50,210.75 L196.20,210.71 L196.90,210.67 L197.60,210.62 L198.30,210.57 L198.99,210.52 L199.69,210.46 L200.39,210.39 L201.08,210.33 L201.78,210.25 L202.48,210.17 L203.17,210.09 L203.87,210.00 L204.56,209.90 L205.25,209.79 L205.94,209.68 L206.63,209.56 L207.32,209.43 L208.01,209.29 L208.69,209.15 L209.37,208.99 L210.05,208.83 L210.73,208.65 L211.41,208.47 L212.08,208.27 L212.75,208.07 L213.41,207.85 L214.08,207.62 L214.73,207.38 L215.39,207.13 L216.04,206.87 L216.68,206.59 L217.32,206.30 L217.95,206.00 L218.57,205.68 L219.19,205.35 L219.80,205.01 L220.41,204.66 L221.01,204.30 L221.60,203.93 L222.19,203.55 L222.77,203.15 L223.34,202.75 L223.91,202.34 L224.47,201.92 L225.02,201.49 L225.57,201.05 L226.11,200.61 L226.64,200.16 L227.17,199.70 L227.69,199.23 L228.21,198.76 L228.72,198.28 L229.23,197.80 L229.73,197.31 L230.22,196.81 L230.71,196.31 L231.19,195.80 L231.67,195.29 L232.14,194.77 L232.60,194.25 L233.06,193.72 L233.52,193.19 L233.97,192.65 L234.42,192.11 L234.86,191.57 L235.29,191.02 L235.72,190.47 L236.15,189.91 L236.57,189.35 L236.99,188.79 L237.40,188.23 L237.81,187.66 L238.21,187.09 L238.61,186.51 L239.01,185.93 L239.40,185.35 L239.78,184.77 L240.16,184.18 L240.54,183.59 L240.92,183.00 L241.29,182.40 L241.65,181.81 L242.02,181.21 L242.38,180.61 L242.73,180.01 L243.09,179.40 L243.44,178.79 L243.78,178.19 L244.13,177.58 L244.47,176.97 L244.80,176.35 L245.14,175.74 L245.47,175.12 L245.80,174.50 L246.13,173.89 L246.46,173.27 L246.78,172.65 L247.10,172.02 L247.42,171.40 L247.74,170.77 L248.05,170.15 L248.36,169.52 L248.67,168.89 L248.98,168.27 L249.29,167.64 L249.59,167.00 L249.89,166.37 L250.19,165.74 L250.49,165.11 L250.78,164.47 L251.08,163.84 L251.37,163.20 L251.66,162.56 L251.95,161.93 L252.24,161.29 L252.52,160.65 L252.81,160.01 L253.09,159.37 L253.37,158.73 L253.65,158.09 L253.93,157.44 L254.21,156.80 L254.49,156.16 L254.76,155.51 L255.04,154.87 L255.31,154.23 L255.58,153.58 L255.85,152.94 L256.12,152.29 L256.39,151.64 L256.66,151.00 L256.93,150.35 L257.19,149.70 L257.46,149.05 L257.72,148.41 L257.99,147.76 L258.25,147.11 L258.51,146.46 L258.78,145.81 L259.04,145.16 L259.30,144.51 L259.56,143.86 L259.82,143.21 L260.08,142.56 L260.34,141.91 L260.60,141.26 L260.86,140.61 L261.12,139.96 L261.38,139.31 L261.64,138.66 L261.90,138.01 L262.16,137.36 L262.42,136.71 L262.68,136.06 L262.94,135.41 L263.20,134.76 L263.46,134.11 L263.72,133.46 L263.98,132.81 L264.24,132.16 L264.50,131.51 L264.76,130.86 L265.03,130.21 L265.29,129.56 L265.55,128.92 L265.82,128.27 L266.08,127.62 L266.35,126.97 L266.61,126.32 L266.88,125.68 L267.15,125.03 L267.42,124.38 L267.69,123.74 L267.96,123.09 L268.23,122.45 L268.50,121.80 L268.77,121.16 L269.04,120.51 L269.32,119.87 L269.59,119.22 L269.87,118.58 L270.14,117.93 L270.42,117.29 L270.70,116.65 L270.97,116.01 L271.25,115.36 L271.53,114.72 L271.81,114.08 L272.09,113.44 L272.37,112.80 L272.65,112.16 L272.93,111.51 L273.22,110.87 L273.50,110.23 L273.78,109.59 L274.07,108.95 L274.36,108.32 L274.64,107.68 L274.93,107.04 L275.22,106.40 L275.50,105.76 L275.79,105.12 L276.08,104.49 L276.37,103.85 L276.66,103.21 L276.95,102.58 L277.25,101.94 L277.54,101.30 L277.83,100.67 L278.13,100.03 L278.42,99.40 L278.72,98.76 L279.01,98.13 L279.31,97.49 L279.61,96.86 L279.90,96.23 L280.20,95.59 L280.50,94.96 L280.80,94.33 L281.10,93.69 L281.40,93.06 L281.70,92.43 L282.01,91.80 L282.31,91.17 L282.61,90.54 L282.92,89.91 L283.22,89.28 L283.53,88.65 L283.83,88.02 L284.14,87.39 L284.45,86.76 L284.75,86.13 L285.06,85.50 L285.37,84.87 L285.68,84.24 L285.99,83.62 L286.30,82.99 L286.61,82.36 L286.92,81.73 L287.24,81.11 L287.55,80.48 L287.86,79.86 L288.18,79.23 L288.49,78.60 L288.81,77.98 L289.12,77.35 L289.44,76.73 L289.76,76.11 L290.08,75.49 L290.40,74.86 L290.73,74.24 L291.05,73.62 L291.38,73.00 L291.71,72.39 L292.04,71.77 L292.38,71.16 L292.72,70.54 L293.06,69.93 L293.40,69.32 L293.75,68.71 L294.10,68.11 L294.45,67.50 L294.81,66.90 L295.17,66.30 L295.53,65.70 L295.90,65.11 L296.28,64.52 L296.65,63.93 L297.03,63.34 L297.42,62.76 L297.81,62.17 L298.21,61.60 L298.61,61.02 L299.02,60.45 L299.43,59.89 L299.85,59.33 L300.27,58.77 L300.70,58.21 L301.13,57.67 L301.57,57.12 L302.02,56.58 L302.47,56.05 L302.93,55.52 L303.40,55.00 L303.87,54.48 L304.35,53.97 L304.84,53.47 L305.33,52.97 L305.83,52.48 L306.33,51.99 L306.85,51.52 L307.37,51.05 L307.89,50.59 L308.42,50.13 L308.97,49.69 L309.51,49.25 L310.07,48.82 L310.63,48.40 L311.19,47.99 L311.77,47.59 L312.35,47.20 L312.93,46.82 L313.53,46.45 L314.13,46.08 L314.73,45.73 L315.34,45.39 L315.96,45.06 L316.58,44.74 L317.21,44.43 L317.84,44.13 L318.48,43.85 L319.13,43.57 L319.78,43.31 L320.43,43.07 L321.09,42.84 L321.76,42.62 L322.43,42.42 L323.11,42.23 L323.78,42.06 L324.47,41.91 L325.16,41.78 L325.85,41.66 L326.54,41.56 L327.23,41.48 L327.93,41.43 L328.63,41.39 L329.33,41.38 L330.03,41.39 L330.73,41.42 L331.43,41.47 L332.12,41.55 L332.82,41.65 L333.51,41.77 L334.19,41.90 L334.88,42.05 L335.56,42.22 L336.23,42.41 L336.90,42.61 L337.57,42.82 L338.24,43.04 L338.90,43.27 L339.55,43.52 L340.20,43.77 L340.85,44.03 L341.50,44.30 L342.14,44.58 L342.78,44.86 L343.42,45.16 L344.05,45.46 L344.68,45.77 L345.30,46.08 L345.92,46.41 L346.54,46.74 L347.15,47.08 L347.76,47.42 L348.37,47.77 L348.97,48.13 L349.57,48.50 L350.16,48.87 L350.75,49.25 L351.34,49.63 L351.92,50.02 L352.49,50.41 L353.07,50.82 L353.64,51.22 L354.21,51.63 L354.77,52.05 L355.33,52.47 L355.88,52.90 L356.43,53.33 L356.98,53.77 L357.52,54.21 L358.06,54.65 L358.60,55.10 L359.14,55.55 L359.67,56.01 L360.19,56.47 L360.72,56.94 L361.24,57.40 L361.76,57.87 L362.27,58.35 L362.78,58.83 L363.29,59.31 L363.80,59.79 L364.30,60.28 L364.80,60.77 L365.30,61.26 L365.80,61.75 L366.29,62.25 L366.78,62.75 L367.27,63.25 L367.76,63.75 L368.25,64.25 L368.73,64.76 L369.21,65.27 L369.69,65.78 L370.17,66.29 L370.65,66.80 L371.12,67.31 L371.60,67.83 L372.07,68.35 L372.54,68.86 L373.01,69.38 L373.48,69.90 L373.95,70.42 L374.42,70.94 L374.88,71.47 L375.35,71.99 L375.81,72.51 L376.28,73.04 L376.74,73.56 L377.21,74.08 L377.67,74.61 L378.13,75.13 L378.60,75.66 L379.06,76.18 L379.52,76.71 L379.99,77.23 L380.45,77.76 L380.92,78.28 L381.38,78.80 L381.85,79.33 L382.31,79.85 L382.78,80.37 L383.25,80.89 L383.72,81.41 L384.19,81.93 L384.65,82.45 L385.13,82.97 L385.60,83.49 L386.07,84.00 L386.54,84.52 L387.01,85.04 L387.49,85.55 L387.96,86.07 L388.44,86.58 L388.92,87.09 L389.39,87.60 L389.87,88.12 L390.35,88.63 L390.83,89.14 L391.31,89.65 L391.79,90.16 L392.27,90.66 L392.75,91.17 L393.24,91.68 L393.72,92.18 L394.21,92.69 L394.69,93.19 L395.18,93.70 L395.66,94.20 L396.15,94.70 L396.64,95.20 L397.13,95.70 L397.62,96.20 L398.11,96.70 L398.60,97.20 L399.09,97.70 L399.59,98.20 L400.08,98.69 L400.58,99.19 L401.07,99.68 L401.57,100.18 L402.06,100.67 L402.56,101.16 L403.06,101.66 L403.56,102.15 L404.06,102.64 L404.56,103.13 L405.06,103.62 L405.56,104.10 L406.06,104.59 L406.57,105.08 L407.07,105.56 L407.58,106.05 L408.08,106.53 L408.59,107.02 L409.10,107.50 L409.60,107.98 L410.11,108.46 L410.62,108.94 L411.13,109.42 L411.64,109.90 L412.16,110.38 L412.67,110.86 L413.18,111.33 L413.69,111.81 L414.21,112.28 L414.72,112.76 L415.24,113.23 L415.76,113.70 L416.27,114.18 L416.79,114.65 L417.31,115.12 L417.83,115.59 L418.35,116.06 L418.87,116.53 L419.39,116.99 L419.91,117.46 L420.43,117.93 L420.95,118.40 L421.47,118.86 L422.00,119.33 L422.52,119.79 L423.04,120.26 L423.57,120.72 L424.09,121.18 L424.62,121.65 L425.15,122.11 L425.67,122.57 L426.20,123.03 L426.73,123.49 L427.25,123.95 L427.78,124.41 L428.31,124.87 L428.84,125.33 L429.37,125.79 L429.90,126.25 L430.43,126.71 L430.96,127.16 L431.49,127.62 L432.02,128.08 L432.55,128.53 L433.08,128.99 L433.61,129.45 L434.14,129.90 L434.67,130.36 L435.21,130.81 L435.74,131.26 L436.27,131.72 L436.80,132.17 L437.34,132.63 L437.87,133.08 L438.40,133.53 L438.94,133.99 L439.47,134.44 L440.01,134.89 L440.54,135.34 L441.07,135.80 L441.61,136.25 L442.14,136.70 L442.68,137.15 L443.21,137.60 L443.75,138.06 L444.28,138.51 L444.82,138.96 L445.35,139.41 L445.89,139.86 L446.42,140.31 L446.96,140.76 L447.50,141.22 L448.03,141.67 L448.57,142.12 L449.10,142.57 L449.64,143.02 L450.17,143.47 L450.71,143.92 L451.24,144.37 L451.78,144.82 L452.32,145.27 L452.85,145.72 L453.39,146.17 L453.93,146.62 L454.47,147.07 L455.01,147.51 L455.54,147.96 L456.08,148.41 L456.62,148.85 L457.17,149.30 L457.71,149.74 L458.25,150.18 L458.79,150.62 L459.34,151.07 L459.88,151.50 L460.43,151.94 L460.97,152.38 L461.52,152.82 L462.07,153.25 L462.62,153.68 L463.17,154.12 L463.72,154.55 L464.28,154.97 L464.83,155.40 L465.39,155.83 L465.95,156.25 L466.50,156.67 L467.06,157.09 L467.63,157.51 L468.19,157.93 L468.75,158.34 L469.32,158.75 L469.89,159.16 L470.46,159.57 L471.03,159.98 L471.60,160.38 L472.17,160.78 L472.75,161.18 L473.32,161.58 L473.90,161.97 L474.48,162.36 L475.07,162.75 L475.65,163.14 L476.24,163.52 L476.82,163.90 L477.41,164.28 L478.00,164.66 L478.59,165.04 L479.18,165.42 L479.76,165.80 L480.35,166.18 L480.94,166.56 L481.53,166.94 L482.12,167.31 L482.71,167.70 L483.29,168.08 L483.88,168.46 L484.46,168.85 L485.05,169.23 L485.63,169.62 L486.21,170.02 L486.79,170.41 L487.36,170.81 L487.93,171.22 L488.50,171.62 L489.07,172.03 L489.63,172.45 L490.19,172.87 L490.75,173.29 L491.30,173.72 L491.85,174.16 L492.40,174.60 L492.93,175.05 L493.47,175.50 L494.00,175.96 L494.52,176.42 L495.04,176.90 L495.55,177.38 L496.05,177.86 L496.55,178.36 L497.04,178.85 L497.52,179.36 L498.00,179.87 L498.47,180.39 L498.94,180.91 L499.40,181.43 L499.86,181.96 L500.32,182.49 L500.77,183.03 L501.22,183.57 L501.66,184.11 L502.10,184.65 L502.54,185.20 L502.98,185.75 L503.41,186.30 L503.85,186.84 L504.28,187.39 L504.71,187.95 L505.14,188.50 L505.57,189.05 L506.00,189.60 L506.43,190.16 L506.86,190.71 L507.28,191.27 L507.71,191.82 L508.13,192.38 L508.55,192.94 L508.98,193.50 L509.40,194.06 L509.82,194.62 L510.23,195.18 L510.65,195.74 L511.07,196.31 L511.48,196.87 L511.89,197.44 L512.30,198.00 L512.71,198.57 L513.12,199.14 L513.53,199.71 L513.93,200.28 L514.34,200.85 L514.74,201.43 L515.14,202.00 L515.54,202.58 L515.93,203.15 L516.33,203.73 L516.72,204.31 L517.11,204.89 L517.50,205.47 L517.89,206.06 L518.27,206.64 L518.65,207.23 L519.03,207.82 L519.41,208.41 L519.79,209.00 L520.16,209.59 L520.54,210.18 L520.91,210.78 L521.27,211.37 L521.64,211.97 L522.01,212.56 L522.37,213.16 L522.73,213.76 L523.09,214.36 L523.45,214.96 L523.81,215.56 L524.17,216.16 L524.53,216.76 L524.89,217.37 L525.25,217.97 L525.60,218.57 L525.96,219.17 L526.32,219.77 L526.68,220.37 L527.04,220.98 L527.40,221.58 L527.76,222.18 L528.12,222.77 L528.49,223.37 L528.86,223.97 L529.23,224.56 L529.61,225.15 L529.99,225.73 L530.38,226.31 L530.78,226.89 L531.18,227.46 L531.60,228.03 L532.02,228.59 L532.45,229.14 L532.89,229.68 L533.34,230.22 L533.81,230.74 L534.28,231.25 L534.77,231.76 L535.27,232.25 L535.79,232.72 L536.31,233.18 L536.86,233.62 L537.41,234.05 L537.98,234.46 L538.56,234.85 L539.16,235.21 L539.77,235.56 L540.39,235.89 L541.02,236.19 L541.66,236.47 L542.31,236.72 L542.97,236.95 L543.64,237.16 L544.32,237.35 L545.00,237.51" stroke="#555" stroke-width="1.3" stroke-dasharray="5.5 7.00"/>
<path d="M6.50,212.10 L7.20,212.11 L7.90,212.13 L8.60,212.14 L9.30,212.16 L10.00,212.17 L10.70,212.19 L11.40,212.20 L12.10,212.21 L12.80,212.22 L13.50,212.23 L14.20,212.25 L14.90,212.26 L15.61,212.27 L16.31,212.28 L17.01,212.29 L17.71,212.29 L18.41,212.30 L19.11,212.31 L19.81,212.32 L20.51,212.33 L21.21,212.33 L21.91,212.34 L22.61,212.35 L23.31,212.35 L24.01,212.36 L24.71,212.37 L25.41,212.37 L26.11,212.37 L26.81,212.38 L27.51,212.38 L28.21,212.39 L28.91,212.39 L29.62,212.39 L30.32,212.40 L31.02,212.40 L31.72,212.40 L32.42,212.40 L33.12,212.40 L33.82,212.40 L34.52,212.41 L35.22,212.41 L35.92,212.41 L36.62,212.41 L37.32,212.41 L38.02,212.40 L38.72,212.40 L39.42,212.40 L40.12,212.40 L40.82,212.40 L41.52,212.40 L42.22,212.39 L42.92,212.39 L43.63,212.39 L44.33,212.39 L45.03,212.38 L45.73,212.38 L46.43,212.37 L47.13,212.37 L47.83,212.37 L48.53,212.36 L49.23,212.36 L49.93,212.35 L50.63,212.35 L51.33,212.34 L52.03,212.34 L52.73,212.33 L53.43,212.32 L54.13,212.32 L54.83,212.31 L55.53,212.30 L56.23,212.30 L56.93,212.29 L57.64,212.28 L58.34,212.28 L59.04,212.27 L59.74,212.26 L60.44,212.25 L61.14,212.24 L61.84,212.24 L62.54,212.23 L63.24,212.22 L63.94,212.21 L64.64,212.20 L65.34,212.19 L66.04,212.18 L66.74,212.17 L67.44,212.16 L68.14,212.15 L68.84,212.14 L69.54,212.13 L70.24,212.12 L70.94,212.11 L71.64,212.10 L72.35,212.09 L73.05,212.08 L73.75,212.07 L74.45,212.06 L75.15,212.05 L75.85,212.04 L76.55,212.03 L77.25,212.02 L77.95,212.01 L78.65,212.00 L79.35,211.98 L80.05,211.97 L80.75,211.96 L81.45,211.95 L82.15,211.94 L82.85,211.93 L83.55,211.92 L84.25,211.90 L84.95,211.89 L85.65,211.88 L86.35,211.87 L87.05,211.86 L87.75,211.85 L88.46,211.83 L89.16,211.82 L89.86,211.81 L90.56,211.80 L91.26,211.79 L91.96,211.77 L92.66,211.76 L93.36,211.75 L94.06,211.74 L94.76,211.73 L95.46,211.72 L96.16,211.70 L96.86,211.69 L97.56,211.68 L98.26,211.67 L98.96,211.66 L99.66,211.64 L100.36,211.63 L101.06,211.62 L101.76,211.61 L102.46,211.60 L103.16,211.59 L103.86,211.58 L104.56,211.56 L105.27,211.55 L105.97,211.54 L106.67,211.53 L107.37,211.52 L108.07,211.51 L108.77,211.50 L109.47,211.49 L110.17,211.48 L110.87,211.47 L111.57,211.45 L112.27,211.44 L112.97,211.43 L113.67,211.42 L114.37,211.41 L115.07,211.40 L115.77,211.39 L116.47,211.38 L117.17,211.37 L117.87,211.36 L118.57,211.36 L119.27,211.35 L119.97,211.34 L120.68,211.33 L121.38,211.32 L122.08,211.31 L122.78,211.30 L123.48,211.29 L124.18,211.29 L124.88,211.28 L125.58,211.27 L126.28,211.26 L126.98,211.25 L127.68,211.25 L128.38,211.24 L129.08,211.23 L129.78,211.23 L130.48,211.22 L131.18,211.21 L131.88,211.21 L132.58,211.20 L133.28,211.20 L133.98,211.19 L134.68,211.19 L135.39,211.18 L136.09,211.18 L136.79,211.17 L137.49,211.17 L138.19,211.16 L138.89,211.16 L139.59,211.16 L140.29,211.15 L140.99,211.15 L141.69,211.15 L142.39,211.14 L143.09,211.14 L143.79,211.14 L144.49,211.14 L145.19,211.14 L145.89,211.13 L146.59,211.13 L147.29,211.13 L147.99,211.13 L148.70,211.13 L149.40,211.13 L150.10,211.13 L150.80,211.13 L151.50,211.13 L152.20,211.14 L152.90,211.14 L153.60,211.14 L154.30,211.14 L155.00,211.14 L155.70,211.14 L156.40,211.14 L157.10,211.15 L157.80,211.15 L158.50,211.15 L159.20,211.15 L159.90,211.15 L160.60,211.15 L161.30,211.15 L162.01,211.15 L162.71,211.15 L163.41,211.15 L164.11,211.15 L164.81,211.14 L165.51,211.14 L166.21,211.14 L166.91,211.13 L167.61,211.13 L168.31,211.12 L169.01,211.11 L169.71,211.10 L170.41,211.09 L171.11,211.08 L171.81,211.07 L172.51,211.06 L173.21,211.05 L173.91,211.03 L174.61,211.02 L175.31,211.00 L176.01,210.98 L176.71,210.96 L177.41,210.94 L178.11,210.92 L178.81,210.90 L179.51,210.87 L180.21,210.85 L180.91,210.82 L181.61,210.79 L182.31,210.75 L183.01,210.72 L183.71,210.69 L184.41,210.65 L185.11,210.61 L185.81,210.57 L186.51,210.53 L187.21,210.48 L187.91,210.43 L188.61,210.38 L189.31,210.33 L190.01,210.28 L190.70,210.22 L191.40,210.17 L192.10,210.11 L192.80,210.04 L193.49,209.98 L194.19,209.91 L194.89,209.84 L195.59,209.76 L196.28,209.69 L196.98,209.60 L197.67,209.52 L198.37,209.43 L199.06,209.33 L199.75,209.23 L200.45,209.12 L201.14,209.01 L201.83,208.89 L202.52,208.77 L203.21,208.64 L203.89,208.50 L204.58,208.36 L205.26,208.21 L205.95,208.05 L206.63,207.88 L207.30,207.71 L207.98,207.53 L208.65,207.34 L209.33,207.14 L210.00,206.93 L210.66,206.71 L211.32,206.48 L211.98,206.24 L212.64,206.00 L213.29,205.74 L213.94,205.47 L214.58,205.19 L215.22,204.91 L215.85,204.61 L216.48,204.30 L217.10,203.98 L217.72,203.64 L218.33,203.30 L218.94,202.95 L219.53,202.58 L220.13,202.21 L220.71,201.83 L221.29,201.44 L221.87,201.04 L222.44,200.63 L223.00,200.21 L223.56,199.79 L224.11,199.35 L224.65,198.91 L225.19,198.47 L225.73,198.01 L226.25,197.55 L226.77,197.08 L227.29,196.61 L227.80,196.12 L228.30,195.64 L228.80,195.14 L229.29,194.64 L229.77,194.14 L230.25,193.62 L230.72,193.11 L231.19,192.58 L231.65,192.06 L232.10,191.52 L232.55,190.98 L232.99,190.44 L233.43,189.89 L233.86,189.34 L234.28,188.78 L234.70,188.22 L235.11,187.65 L235.52,187.08 L235.92,186.50 L236.31,185.93 L236.70,185.34 L237.08,184.76 L237.46,184.17 L237.84,183.58 L238.20,182.98 L238.57,182.38 L238.92,181.78 L239.28,181.17 L239.63,180.56 L239.97,179.95 L240.31,179.34 L240.64,178.73 L240.97,178.11 L241.30,177.49 L241.62,176.86 L241.94,176.24 L242.25,175.61 L242.56,174.98 L242.86,174.35 L243.16,173.72 L243.46,173.09 L243.76,172.45 L244.05,171.82 L244.34,171.18 L244.62,170.54 L244.90,169.90 L245.18,169.25 L245.46,168.61 L245.73,167.96 L246.00,167.32 L246.27,166.67 L246.54,166.02 L246.80,165.37 L247.06,164.73 L247.33,164.07 L247.58,163.42 L247.84,162.77 L248.10,162.12 L248.35,161.47 L248.60,160.81 L248.86,160.16 L249.11,159.51 L249.36,158.85 L249.61,158.20 L249.85,157.54 L250.10,156.89 L250.35,156.23 L250.60,155.58 L250.85,154.92 L251.09,154.27 L251.34,153.61 L251.59,152.96 L251.84,152.30 L252.09,151.65 L252.33,150.99 L252.59,150.34 L252.84,149.68 L253.09,149.03 L253.34,148.38 L253.60,147.72 L253.85,147.07 L254.11,146.42 L254.37,145.77 L254.63,145.12 L254.89,144.47 L255.16,143.82 L255.43,143.17 L255.70,142.53 L255.97,141.88 L256.24,141.24 L256.52,140.59 L256.80,139.95 L257.08,139.31 L257.36,138.67 L257.65,138.03 L257.94,137.39 L258.22,136.75 L258.51,136.11 L258.80,135.48 L259.10,134.84 L259.39,134.20 L259.68,133.57 L259.97,132.93 L260.27,132.29 L260.56,131.66 L260.85,131.02 L261.14,130.38 L261.44,129.75 L261.73,129.11 L262.02,128.47 L262.31,127.83 L262.59,127.20 L262.88,126.56 L263.17,125.92 L263.45,125.28 L263.73,124.63 L264.01,123.99 L264.29,123.35 L264.56,122.70 L264.83,122.06 L265.11,121.41 L265.38,120.77 L265.65,120.12 L265.91,119.47 L266.18,118.83 L266.45,118.18 L266.71,117.53 L266.98,116.88 L267.24,116.23 L267.50,115.58 L267.76,114.93 L268.02,114.28 L268.29,113.63 L268.55,112.98 L268.81,112.33 L269.07,111.68 L269.33,111.03 L269.59,110.38 L269.86,109.73 L270.12,109.08 L270.38,108.43 L270.64,107.79 L270.91,107.14 L271.17,106.49 L271.44,105.84 L271.71,105.19 L271.98,104.55 L272.25,103.90 L272.52,103.25 L272.79,102.61 L273.07,101.96 L273.34,101.32 L273.62,100.68 L273.90,100.04 L274.18,99.39 L274.47,98.75 L274.75,98.12 L275.04,97.48 L275.34,96.84 L275.63,96.20 L275.93,95.57 L276.23,94.94 L276.53,94.31 L276.84,93.68 L277.14,93.05 L277.46,92.42 L277.77,91.79 L278.09,91.17 L278.41,90.55 L278.74,89.93 L279.07,89.31 L279.40,88.69 L279.74,88.08 L280.08,87.47 L280.43,86.86 L280.78,86.25 L281.13,85.65 L281.49,85.05 L281.85,84.45 L282.22,83.85 L282.59,83.26 L282.97,82.67 L283.35,82.08 L283.74,81.49 L284.13,80.91 L284.52,80.34 L284.92,79.76 L285.33,79.19 L285.74,78.62 L286.16,78.06 L286.58,77.50 L287.00,76.94 L287.43,76.39 L287.87,75.84 L288.30,75.29 L288.74,74.74 L289.17,74.19 L289.61,73.65 L290.05,73.10 L290.49,72.55 L290.92,72.00 L291.36,71.45 L291.79,70.90 L292.22,70.35 L292.64,69.79 L293.06,69.23 L293.48,68.67 L293.88,68.10 L294.29,67.52 L294.68,66.94 L295.07,66.36 L295.45,65.77 L295.82,65.18 L296.18,64.58 L296.54,63.97 L296.90,63.37 L297.26,62.77 L297.63,62.18 L298.00,61.59 L298.39,61.00 L298.78,60.42 L299.19,59.85 L299.60,59.29 L300.03,58.73 L300.47,58.18 L300.91,57.64 L301.37,57.12 L301.85,56.60 L302.33,56.09 L302.83,55.60 L303.34,55.12 L303.86,54.65 L304.40,54.20 L304.95,53.77 L305.51,53.35 L306.09,52.96 L306.68,52.58 L307.28,52.22 L307.89,51.88 L308.52,51.57 L309.16,51.28 L309.80,51.01 L310.46,50.76 L311.13,50.54 L311.80,50.34 L312.47,50.16 L313.15,49.99 L313.84,49.85 L314.53,49.72 L315.22,49.61 L315.91,49.51 L316.61,49.43 L317.31,49.37 L318.01,49.33 L318.71,49.30 L319.41,49.29 L320.11,49.30 L320.81,49.32 L321.51,49.36 L322.20,49.41 L322.90,49.48 L323.60,49.56 L324.29,49.66 L324.98,49.78 L325.67,49.90 L326.36,50.05 L327.04,50.20 L327.72,50.37 L328.39,50.56 L329.07,50.75 L329.74,50.96 L330.40,51.19 L331.06,51.42 L331.71,51.67 L332.36,51.93 L333.01,52.20 L333.65,52.48 L334.29,52.78 L334.92,53.09 L335.54,53.40 L336.16,53.73 L336.77,54.07 L337.38,54.42 L337.98,54.78 L338.57,55.15 L339.16,55.54 L339.74,55.93 L340.32,56.33 L340.88,56.74 L341.44,57.16 L342.00,57.59 L342.54,58.03 L343.09,58.47 L343.62,58.92 L344.15,59.38 L344.67,59.85 L345.19,60.32 L345.70,60.80 L346.21,61.28 L346.71,61.77 L347.21,62.26 L347.70,62.76 L348.19,63.26 L348.68,63.76 L349.16,64.27 L349.64,64.78 L350.12,65.30 L350.59,65.81 L351.06,66.33 L351.53,66.85 L352.00,67.37 L352.47,67.89 L352.93,68.42 L353.40,68.94 L353.86,69.47 L354.33,69.99 L354.79,70.52 L355.26,71.04 L355.72,71.56 L356.19,72.09 L356.66,72.61 L357.12,73.13 L357.60,73.65 L358.07,74.16 L358.55,74.68 L359.02,75.19 L359.50,75.70 L359.98,76.21 L360.47,76.72 L360.95,77.22 L361.44,77.73 L361.92,78.23 L362.41,78.73 L362.90,79.23 L363.39,79.73 L363.89,80.23 L364.38,80.73 L364.87,81.22 L365.37,81.72 L365.87,82.21 L366.36,82.71 L366.86,83.20 L367.36,83.69 L367.86,84.18 L368.36,84.67 L368.86,85.16 L369.36,85.66 L369.86,86.15 L370.36,86.64 L370.86,87.13 L371.36,87.62 L371.86,88.10 L372.36,88.59 L372.86,89.09 L373.36,89.58 L373.86,90.07 L374.36,90.56 L374.86,91.05 L375.36,91.54 L375.86,92.03 L376.36,92.53 L376.85,93.02 L377.35,93.52 L377.84,94.01 L378.34,94.51 L378.84,95.00 L379.33,95.50 L379.83,95.99 L380.32,96.49 L380.82,96.98 L381.31,97.48 L381.81,97.97 L382.31,98.46 L382.81,98.96 L383.31,99.45 L383.80,99.94 L384.31,100.43 L384.81,100.92 L385.31,101.41 L385.81,101.89 L386.32,102.38 L386.82,102.86 L387.33,103.35 L387.84,103.83 L388.35,104.31 L388.86,104.79 L389.38,105.26 L389.89,105.74 L390.41,106.21 L390.93,106.68 L391.45,107.15 L391.97,107.61 L392.50,108.08 L393.02,108.54 L393.55,109.00 L394.07,109.47 L394.60,109.93 L395.13,110.39 L395.65,110.85 L396.18,111.32 L396.70,111.78 L397.23,112.24 L397.75,112.71 L398.27,113.18 L398.79,113.65 L399.31,114.12 L399.83,114.59 L400.34,115.07 L400.86,115.54 L401.36,116.03 L401.87,116.51 L402.37,117.00 L402.87,117.49 L403.37,117.99 L403.86,118.49 L404.34,118.99 L404.83,119.49 L405.31,120.00 L405.79,120.52 L406.26,121.03 L406.73,121.55 L407.20,122.07 L407.66,122.60 L408.12,123.13 L408.58,123.66 L409.03,124.19 L409.48,124.73 L409.93,125.27 L410.37,125.81 L410.81,126.36 L411.25,126.91 L411.68,127.46 L412.11,128.01 L412.54,128.56 L412.96,129.12 L413.38,129.68 L413.80,130.24 L414.22,130.81 L414.63,131.37 L415.04,131.94 L415.44,132.51 L415.85,133.09 L416.25,133.66 L416.65,134.24 L417.04,134.81 L417.44,135.39 L417.83,135.98 L418.21,136.56 L418.60,137.14 L418.98,137.73 L419.36,138.32 L419.74,138.91 L420.12,139.50 L420.49,140.09 L420.86,140.69 L421.23,141.28 L421.60,141.88 L421.96,142.48 L422.32,143.08 L422.68,143.68 L423.04,144.28 L423.40,144.88 L423.75,145.49 L424.10,146.09 L424.46,146.70 L424.80,147.31 L425.15,147.92 L425.50,148.52 L425.84,149.13 L426.19,149.74 L426.53,150.35 L426.88,150.96 L427.22,151.57 L427.56,152.19 L427.90,152.80 L428.25,153.41 L428.59,154.02 L428.94,154.63 L429.28,155.24 L429.63,155.85 L429.97,156.46 L430.32,157.06 L430.67,157.67 L431.02,158.28 L431.37,158.88 L431.73,159.49 L432.09,160.09 L432.45,160.69 L432.81,161.29 L433.17,161.89 L433.54,162.48 L433.91,163.08 L434.29,163.67 L434.67,164.26 L435.05,164.85 L435.43,165.43 L435.82,166.01 L436.21,166.59 L436.61,167.17 L437.01,167.74 L437.42,168.31 L437.83,168.88 L438.25,169.44 L438.67,170.00 L439.10,170.56 L439.53,171.11 L439.97,171.66 L440.41,172.20 L440.86,172.74 L441.32,173.27 L441.78,173.80 L442.24,174.32 L442.72,174.84 L443.20,175.35 L443.68,175.85 L444.17,176.35 L444.67,176.84 L445.18,177.33 L445.69,177.81 L446.20,178.28 L446.72,178.75 L447.25,179.21 L447.79,179.66 L448.33,180.11 L448.87,180.55 L449.42,180.98 L449.98,181.41 L450.54,181.83 L451.11,182.24 L451.68,182.65 L452.25,183.04 L452.84,183.43 L453.42,183.82 L454.01,184.19 L454.61,184.56 L455.21,184.92 L455.81,185.28 L456.42,185.62 L457.04,185.96 L457.66,186.29 L458.28,186.61 L458.90,186.92 L459.54,187.23 L460.17,187.52 L460.81,187.81 L461.45,188.09 L462.10,188.36 L462.75,188.62 L463.40,188.87 L464.06,189.12 L464.71,189.37 L465.37,189.60 L466.03,189.84 L466.69,190.07 L467.36,190.30 L468.02,190.53 L468.68,190.75 L469.34,190.98 L470.01,191.20 L470.67,191.43 L471.33,191.66 L471.99,191.89 L472.65,192.13 L473.31,192.37 L473.97,192.61 L474.62,192.86 L475.28,193.11 L475.93,193.37 L476.58,193.64 L477.22,193.91 L477.87,194.18 L478.51,194.47 L479.14,194.76 L479.77,195.06 L480.40,195.37 L481.03,195.69 L481.65,196.01 L482.26,196.35 L482.87,196.69 L483.48,197.05 L484.07,197.42 L484.66,197.80 L485.24,198.19 L485.82,198.59 L486.38,199.00 L486.94,199.43 L487.49,199.86 L488.03,200.31 L488.56,200.77 L489.08,201.24 L489.59,201.71 L490.10,202.19 L490.60,202.68 L491.10,203.18 L491.59,203.67 L492.08,204.18 L492.56,204.68 L493.04,205.19 L493.52,205.71 L493.99,206.22 L494.47,206.74 L494.93,207.26 L495.40,207.79 L495.86,208.31 L496.32,208.84 L496.78,209.37 L497.24,209.90 L497.69,210.43 L498.15,210.97 L498.60,211.50 L499.05,212.04 L499.50,212.57 L499.95,213.11 L500.40,213.65 L500.85,214.19 L501.30,214.72 L501.75,215.26 L502.19,215.80 L502.64,216.34 L503.09,216.87 L503.55,217.41 L504.00,217.94 L504.45,218.48 L504.91,219.01 L505.36,219.54 L505.82,220.07 L506.28,220.60 L506.75,221.13 L507.21,221.65 L507.68,222.17 L508.14,222.70 L508.61,223.22 L509.08,223.73 L509.55,224.25 L510.03,224.77 L510.50,225.28 L510.98,225.80 L511.46,226.31 L511.94,226.82 L512.42,227.32 L512.91,227.83 L513.39,228.34 L513.88,228.84 L514.37,229.34 L514.86,229.84 L515.35,230.34 L515.84,230.84 L516.34,231.34 L516.83,231.83 L517.33,232.32 L517.83,232.81 L518.33,233.30 L518.83,233.79 L519.34,234.28 L519.85,234.76 L520.35,235.24 L520.86,235.72 L521.38,236.20 L521.89,236.68 L522.41,237.15 L522.93,237.62 L523.45,238.09 L523.97,238.56 L524.49,239.02 L525.02,239.48 L525.55,239.94 L526.08,240.40 L526.61,240.85 L527.15,241.31 L527.69,241.75 L528.23,242.20 L528.77,242.64 L529.31,243.08 L529.86,243.52 L530.41,243.95 L530.96,244.39 L531.52,244.81 L532.07,245.24 L532.63,245.66 L533.20,246.08 L533.76,246.49 L534.33,246.90 L534.90,247.31 L535.47,247.71 L536.05,248.11 L536.63,248.51 L537.21,248.90 L537.79,249.28 L538.38,249.67 L538.97,250.05 L539.56,250.42 L540.15,250.79 L540.75,251.16 L541.35,251.52 L541.95,251.88 L542.56,252.23 L543.16,252.58 L543.77,252.92 L544.39,253.26 L545.00,253.60" stroke="#333" stroke-width="1.2" stroke-dasharray="1.2 1.1"/>
<path d="M6.48,212.02 L7.18,212.01 L7.88,212.01 L8.58,212.00 L9.28,211.99 L9.98,211.99 L10.68,211.98 L11.38,211.98 L12.08,211.97 L12.78,211.97 L13.48,211.96 L14.18,211.96 L14.88,211.95 L15.58,211.94 L16.28,211.94 L16.98,211.93 L17.68,211.93 L18.38,211.92 L19.08,211.92 L19.78,211.91 L20.48,211.91 L21.18,211.90 L21.88,211.90 L22.58,211.90 L23.28,211.89 L23.98,211.89 L24.68,211.88 L25.38,211.88 L26.08,211.87 L26.78,211.87 L27.48,211.86 L28.18,211.86 L28.88,211.85 L29.58,211.85 L30.28,211.85 L30.98,211.84 L31.68,211.84 L32.38,211.83 L33.08,211.83 L33.78,211.83 L34.48,211.82 L35.18,211.82 L35.88,211.81 L36.58,211.81 L37.28,211.81 L37.98,211.80 L38.68,211.80 L39.38,211.80 L40.08,211.79 L40.78,211.79 L41.48,211.78 L42.18,211.78 L42.88,211.78 L43.58,211.77 L44.28,211.77 L44.98,211.77 L45.68,211.76 L46.38,211.76 L47.08,211.76 L47.78,211.75 L48.48,211.75 L49.18,211.75 L49.88,211.74 L50.58,211.74 L51.28,211.74 L51.98,211.73 L52.68,211.73 L53.38,211.73 L54.08,211.72 L54.78,211.72 L55.48,211.72 L56.18,211.71 L56.88,211.71 L57.58,211.71 L58.28,211.70 L58.98,211.70 L59.68,211.70 L60.38,211.69 L61.08,211.69 L61.78,211.69 L62.48,211.68 L63.18,211.68 L63.88,211.68 L64.58,211.67 L65.28,211.67 L65.98,211.67 L66.68,211.66 L67.38,211.66 L68.08,211.66 L68.78,211.65 L69.48,211.65 L70.18,211.65 L70.88,211.64 L71.58,211.64 L72.28,211.64 L72.98,211.63 L73.68,211.63 L74.38,211.63 L75.08,211.62 L75.78,211.62 L76.48,211.62 L77.18,211.61 L77.88,211.61 L78.58,211.60 L79.28,211.60 L79.98,211.60 L80.68,211.59 L81.38,211.59 L82.08,211.59 L82.78,211.58 L83.48,211.58 L84.18,211.58 L84.88,211.57 L85.58,211.57 L86.28,211.56 L86.98,211.56 L87.68,211.56 L88.38,211.55 L89.08,211.55 L89.78,211.54 L90.48,211.54 L91.18,211.54 L91.88,211.53 L92.58,211.53 L93.28,211.52 L93.98,211.52 L94.68,211.51 L95.38,211.51 L96.08,211.51 L96.78,211.50 L97.48,211.50 L98.18,211.49 L98.88,211.49 L99.58,211.48 L100.28,211.48 L100.98,211.47 L101.68,211.47 L102.38,211.46 L103.08,211.46 L103.78,211.45 L104.48,211.45 L105.18,211.44 L105.88,211.44 L106.58,211.43 L107.28,211.43 L107.98,211.42 L108.68,211.42 L109.38,211.41 L110.08,211.41 L110.78,211.40 L111.48,211.39 L112.18,211.39 L112.88,211.38 L113.58,211.38 L114.28,211.37 L114.98,211.36 L115.68,211.36 L116.38,211.35 L117.08,211.35 L117.78,211.34 L118.48,211.33 L119.18,211.33 L119.88,211.32 L120.58,211.31 L121.28,211.31 L121.98,211.30 L122.68,211.29 L123.38,211.29 L124.08,211.28 L124.78,211.27 L125.48,211.27 L126.18,211.26 L126.88,211.25 L127.58,211.24 L128.28,211.24 L128.98,211.23 L129.68,211.22 L130.38,211.21 L131.08,211.20 L131.78,211.20 L132.48,211.19 L133.18,211.18 L133.88,211.17 L134.58,211.16 L135.28,211.15 L135.98,211.15 L136.68,211.14 L137.38,211.13 L138.08,211.12 L138.78,211.11 L139.48,211.10 L140.18,211.09 L140.88,211.08 L141.58,211.07 L142.28,211.06 L142.98,211.05 L143.68,211.04 L144.38,211.03 L145.08,211.02 L145.78,211.01 L146.48,211.00 L147.18,210.99 L147.88,210.98 L148.58,210.97 L149.28,210.96 L149.98,210.95 L150.68,210.94 L151.38,210.93 L152.08,210.92 L152.78,210.91 L153.48,210.90 L154.18,210.88 L154.88,210.87 L155.58,210.86 L156.28,210.85 L156.98,210.84 L157.68,210.82 L158.38,210.81 L159.08,210.80 L159.78,210.79 L160.48,210.77 L161.18,210.76 L161.88,210.75 L162.58,210.74 L163.28,210.72 L163.98,210.71 L164.68,210.70 L165.38,210.68 L166.08,210.67 L166.78,210.65 L167.48,210.64 L168.18,210.63 L168.88,210.61 L169.58,210.60 L170.28,210.58 L170.98,210.57 L171.68,210.55 L172.38,210.54 L173.08,210.52 L173.78,210.51 L174.48,210.49 L175.18,210.48 L175.88,210.46 L176.58,210.45 L177.28,210.43 L177.98,210.41 L178.68,210.40 L179.38,210.38 L180.08,210.36 L180.78,210.35 L181.48,210.33 L182.18,210.31 L182.88,210.29 L183.58,210.27 L184.28,210.25 L184.98,210.23 L185.68,210.21 L186.38,210.18 L187.07,210.15 L187.77,210.12 L188.47,210.09 L189.17,210.05 L189.87,210.02 L190.57,209.97 L191.27,209.93 L191.97,209.88 L192.66,209.83 L193.36,209.77 L194.06,209.71 L194.76,209.64 L195.45,209.57 L196.15,209.49 L196.84,209.41 L197.54,209.33 L198.23,209.23 L198.93,209.13 L199.62,209.03 L200.31,208.92 L201.00,208.80 L201.69,208.67 L202.37,208.54 L203.06,208.40 L203.74,208.25 L204.43,208.09 L205.11,207.92 L205.78,207.75 L206.46,207.57 L207.13,207.38 L207.80,207.17 L208.47,206.96 L209.14,206.74 L209.80,206.51 L210.45,206.27 L211.11,206.02 L211.76,205.76 L212.40,205.49 L213.05,205.21 L213.68,204.92 L214.31,204.62 L214.94,204.31 L215.56,203.98 L216.18,203.65 L216.79,203.31 L217.39,202.95 L217.99,202.59 L218.58,202.21 L219.16,201.83 L219.74,201.44 L220.32,201.04 L220.88,200.63 L221.45,200.21 L222.00,199.78 L222.55,199.35 L223.10,198.91 L223.64,198.46 L224.17,198.01 L224.69,197.55 L225.21,197.08 L225.73,196.60 L226.24,196.12 L226.74,195.64 L227.24,195.14 L227.73,194.65 L228.22,194.14 L228.69,193.63 L229.17,193.11 L229.63,192.59 L230.10,192.07 L230.55,191.53 L231.00,191.00 L231.44,190.46 L231.88,189.91 L232.31,189.36 L232.73,188.80 L233.15,188.24 L233.56,187.67 L233.97,187.10 L234.37,186.52 L234.76,185.94 L235.15,185.36 L235.53,184.77 L235.90,184.18 L236.27,183.59 L236.64,182.99 L236.99,182.39 L237.35,181.79 L237.70,181.18 L238.04,180.57 L238.38,179.95 L238.71,179.34 L239.04,178.72 L239.36,178.10 L239.68,177.48 L240.00,176.85 L240.31,176.23 L240.62,175.60 L240.92,174.97 L241.22,174.33 L241.52,173.70 L241.81,173.07 L242.11,172.43 L242.39,171.79 L242.68,171.15 L242.96,170.51 L243.24,169.87 L243.52,169.23 L243.80,168.59 L244.07,167.94 L244.34,167.30 L244.61,166.65 L244.88,166.00 L245.15,165.36 L245.41,164.71 L245.68,164.06 L245.94,163.41 L246.20,162.76 L246.46,162.11 L246.71,161.46 L246.97,160.81 L247.23,160.16 L247.48,159.50 L247.74,158.85 L247.99,158.20 L248.24,157.55 L248.49,156.89 L248.75,156.24 L249.00,155.59 L249.25,154.93 L249.50,154.28 L249.75,153.63 L250.01,152.98 L250.26,152.32 L250.51,151.67 L250.77,151.02 L251.02,150.36 L251.27,149.71 L251.53,149.06 L251.78,148.41 L252.04,147.76 L252.30,147.11 L252.56,146.46 L252.82,145.81 L253.08,145.16 L253.34,144.51 L253.61,143.86 L253.88,143.21 L254.14,142.57 L254.41,141.92 L254.69,141.28 L254.96,140.63 L255.24,139.99 L255.51,139.35 L255.79,138.71 L256.07,138.06 L256.36,137.42 L256.64,136.78 L256.92,136.14 L257.21,135.50 L257.49,134.86 L257.78,134.23 L258.07,133.59 L258.35,132.95 L258.64,132.31 L258.93,131.67 L259.21,131.03 L259.50,130.39 L259.79,129.76 L260.07,129.12 L260.36,128.48 L260.64,127.84 L260.93,127.20 L261.21,126.56 L261.49,125.92 L261.77,125.27 L262.05,124.63 L262.33,123.99 L262.60,123.35 L262.87,122.70 L263.15,122.06 L263.42,121.41 L263.69,120.77 L263.96,120.12 L264.23,119.47 L264.50,118.83 L264.76,118.18 L265.03,117.53 L265.30,116.89 L265.56,116.24 L265.83,115.59 L266.09,114.94 L266.36,114.30 L266.62,113.65 L266.89,113.00 L267.16,112.35 L267.42,111.70 L267.69,111.06 L267.95,110.41 L268.22,109.76 L268.49,109.11 L268.75,108.47 L269.02,107.82 L269.29,107.17 L269.56,106.53 L269.83,105.88 L270.10,105.24 L270.38,104.59 L270.65,103.95 L270.93,103.31 L271.21,102.66 L271.49,102.02 L271.77,101.38 L272.05,100.74 L272.33,100.10 L272.62,99.46 L272.91,98.82 L273.20,98.19 L273.49,97.55 L273.78,96.92 L274.08,96.28 L274.38,95.65 L274.68,95.02 L274.99,94.39 L275.29,93.76 L275.60,93.13 L275.91,92.50 L276.23,91.88 L276.55,91.25 L276.87,90.63 L277.19,90.01 L277.52,89.39 L277.85,88.78 L278.19,88.16 L278.52,87.55 L278.87,86.94 L279.21,86.33 L279.56,85.72 L279.91,85.12 L280.27,84.51 L280.63,83.91 L280.99,83.32 L281.36,82.72 L281.73,82.13 L282.11,81.54 L282.49,80.95 L282.87,80.36 L283.26,79.78 L283.65,79.20 L284.05,78.63 L284.45,78.05 L284.86,77.48 L285.27,76.92 L285.69,76.35 L286.10,75.79 L286.53,75.23 L286.95,74.68 L287.38,74.12 L287.81,73.57 L288.25,73.02 L288.69,72.48 L289.13,71.93 L289.57,71.39 L290.01,70.85 L290.46,70.31 L290.91,69.78 L291.36,69.24 L291.82,68.71 L292.27,68.18 L292.73,67.65 L293.19,67.12 L293.65,66.59 L294.11,66.06 L294.57,65.54 L295.04,65.02 L295.51,64.50 L295.99,63.99 L296.48,63.49 L296.99,63.01 L297.52,62.55 L298.07,62.12 L298.64,61.71 L299.22,61.33 L299.83,60.97 L300.45,60.65 L301.08,60.34 L301.72,60.07 L302.37,59.81 L303.03,59.58 L303.70,59.37 L304.37,59.18 L305.05,59.00 L305.73,58.85 L306.42,58.71 L307.11,58.58 L307.80,58.47 L308.49,58.37 L309.19,58.28 L309.88,58.21 L310.58,58.14 L311.28,58.09 L311.97,58.04 L312.67,58.00 L313.37,57.96 L314.07,57.94 L314.77,57.91 L315.47,57.89 L316.17,57.88 L316.87,57.86 L317.57,57.85 L318.27,57.84 L318.97,57.83 L319.67,57.82 L320.37,57.80 L321.07,57.78 L321.77,57.76 L322.47,57.74 L323.17,57.72 L323.87,57.71 L324.57,57.71 L325.27,57.72 L325.97,57.75 L326.67,57.79 L327.36,57.86 L328.06,57.95 L328.75,58.06 L329.44,58.19 L330.12,58.34 L330.80,58.50 L331.48,58.68 L332.15,58.88 L332.81,59.10 L333.47,59.33 L334.13,59.58 L334.78,59.85 L335.42,60.13 L336.05,60.43 L336.68,60.74 L337.30,61.06 L337.91,61.40 L338.52,61.75 L339.12,62.11 L339.71,62.48 L340.29,62.87 L340.87,63.27 L341.44,63.68 L341.99,64.10 L342.55,64.53 L343.09,64.98 L343.62,65.43 L344.15,65.89 L344.67,66.36 L345.18,66.83 L345.69,67.32 L346.19,67.81 L346.68,68.31 L347.16,68.81 L347.64,69.32 L348.12,69.84 L348.58,70.36 L349.05,70.88 L349.51,71.41 L349.96,71.94 L350.41,72.48 L350.86,73.02 L351.30,73.56 L351.74,74.10 L352.18,74.65 L352.62,75.20 L353.05,75.75 L353.48,76.30 L353.92,76.85 L354.35,77.40 L354.78,77.95 L355.21,78.50 L355.64,79.06 L356.07,79.61 L356.50,80.16 L356.93,80.71 L357.36,81.26 L357.80,81.81 L358.23,82.36 L358.66,82.91 L359.10,83.46 L359.53,84.01 L359.97,84.56 L360.40,85.10 L360.84,85.65 L361.28,86.20 L361.72,86.74 L362.16,87.28 L362.60,87.83 L363.05,88.37 L363.49,88.91 L363.94,89.45 L364.38,89.99 L364.83,90.53 L365.28,91.06 L365.73,91.60 L366.18,92.13 L366.64,92.66 L367.10,93.20 L367.55,93.72 L368.01,94.25 L368.48,94.78 L368.94,95.30 L369.41,95.82 L369.87,96.35 L370.34,96.86 L370.82,97.38 L371.29,97.90 L371.77,98.41 L372.25,98.92 L372.73,99.43 L373.21,99.93 L373.70,100.44 L374.19,100.94 L374.68,101.44 L375.17,101.93 L375.67,102.42 L376.17,102.91 L376.67,103.40 L377.18,103.89 L377.69,104.37 L378.20,104.85 L378.71,105.32 L379.23,105.79 L379.75,106.26 L380.27,106.73 L380.80,107.19 L381.33,107.65 L381.86,108.10 L382.39,108.55 L382.93,109.00 L383.48,109.44 L384.02,109.88 L384.57,110.31 L385.12,110.74 L385.68,111.17 L386.24,111.59 L386.80,112.01 L387.37,112.42 L387.93,112.83 L388.51,113.23 L389.08,113.63 L389.66,114.02 L390.24,114.41 L390.83,114.80 L391.42,115.18 L392.01,115.55 L392.60,115.92 L393.20,116.29 L393.79,116.66 L394.39,117.02 L395.00,117.37 L395.60,117.73 L396.21,118.08 L396.81,118.42 L397.42,118.77 L398.03,119.11 L398.65,119.45 L399.26,119.78 L399.88,120.12 L400.49,120.45 L401.11,120.78 L401.73,121.10 L402.35,121.43 L402.97,121.75 L403.59,122.08 L404.22,122.40 L404.84,122.71 L405.46,123.03 L406.09,123.35 L406.71,123.66 L407.34,123.98 L407.96,124.29 L408.59,124.61 L409.21,124.92 L409.84,125.23 L410.47,125.55 L411.09,125.86 L411.72,126.17 L412.34,126.49 L412.97,126.80 L413.59,127.12 L414.22,127.43 L414.85,127.74 L415.47,128.06 L416.10,128.38 L416.72,128.69 L417.35,129.01 L417.97,129.32 L418.59,129.64 L419.22,129.96 L419.84,130.27 L420.47,130.59 L421.09,130.91 L421.71,131.22 L422.34,131.54 L422.96,131.86 L423.59,132.18 L424.21,132.50 L424.83,132.82 L425.46,133.13 L426.08,133.45 L426.70,133.77 L427.32,134.09 L427.95,134.41 L428.57,134.73 L429.19,135.05 L429.81,135.37 L430.44,135.69 L431.06,136.01 L431.68,136.34 L432.30,136.66 L432.92,136.98 L433.55,137.30 L434.17,137.62 L434.79,137.94 L435.41,138.27 L436.03,138.59 L436.65,138.91 L437.28,139.23 L437.90,139.56 L438.52,139.88 L439.14,140.20 L439.76,140.53 L440.38,140.85 L441.00,141.17 L441.62,141.50 L442.24,141.82 L442.86,142.14 L443.48,142.47 L444.10,142.79 L444.72,143.12 L445.34,143.44 L445.96,143.76 L446.59,144.09 L447.21,144.41 L447.83,144.74 L448.45,145.06 L449.07,145.39 L449.69,145.71 L450.31,146.04 L450.93,146.36 L451.55,146.69 L452.16,147.01 L452.78,147.34 L453.40,147.67 L454.02,147.99 L454.64,148.32 L455.26,148.64 L455.88,148.97 L456.50,149.29 L457.12,149.62 L457.74,149.95 L458.36,150.27 L458.98,150.60 L459.60,150.92 L460.22,151.25 L460.84,151.58 L461.46,151.90 L462.08,152.23 L462.70,152.55 L463.32,152.88 L463.94,153.21 L464.56,153.53 L465.17,153.86 L465.79,154.19 L466.41,154.51 L467.03,154.84 L467.65,155.16 L468.27,155.49 L468.89,155.82 L469.51,156.14 L470.13,156.47 L470.75,156.80 L471.37,157.12 L471.99,157.45 L472.60,157.78 L473.22,158.11 L473.84,158.44 L474.45,158.77 L475.07,159.11 L475.68,159.45 L476.29,159.79 L476.90,160.13 L477.51,160.48 L478.11,160.83 L478.72,161.19 L479.32,161.55 L479.91,161.92 L480.51,162.29 L481.10,162.66 L481.69,163.04 L482.27,163.43 L482.85,163.82 L483.42,164.22 L484.00,164.63 L484.56,165.04 L485.12,165.46 L485.68,165.88 L486.23,166.32 L486.77,166.76 L487.31,167.21 L487.83,167.67 L488.36,168.13 L488.87,168.61 L489.38,169.09 L489.88,169.58 L490.38,170.07 L490.86,170.58 L491.34,171.08 L491.82,171.60 L492.29,172.12 L492.75,172.64 L493.21,173.17 L493.67,173.70 L494.12,174.24 L494.56,174.78 L495.00,175.32 L495.44,175.87 L495.87,176.42 L496.30,176.97 L496.73,177.53 L497.15,178.08 L497.58,178.64 L497.99,179.20 L498.41,179.77 L498.82,180.33 L499.23,180.90 L499.64,181.47 L500.04,182.04 L500.45,182.61 L500.85,183.19 L501.24,183.76 L501.64,184.34 L502.03,184.92 L502.43,185.50 L502.82,186.08 L503.20,186.66 L503.59,187.25 L503.97,187.83 L504.36,188.42 L504.74,189.00 L505.12,189.59 L505.50,190.18 L505.88,190.77 L506.25,191.36 L506.63,191.95 L507.01,192.54 L507.38,193.13 L507.75,193.72 L508.13,194.32 L508.50,194.91 L508.87,195.50 L509.25,196.09 L509.62,196.69 L509.99,197.28 L510.36,197.87 L510.74,198.47 L511.11,199.06 L511.48,199.65 L511.85,200.24 L512.22,200.84 L512.60,201.43 L512.97,202.02 L513.34,202.62 L513.71,203.21 L514.08,203.81 L514.44,204.40 L514.81,205.00 L515.17,205.60 L515.54,206.20 L515.90,206.79 L516.26,207.40 L516.62,208.00 L516.97,208.60 L517.33,209.20 L517.68,209.81 L518.03,210.42 L518.37,211.02 L518.72,211.63 L519.06,212.24 L519.41,212.85 L519.75,213.46 L520.09,214.07 L520.43,214.69 L520.77,215.30 L521.11,215.91 L521.46,216.52 L521.80,217.13 L522.15,217.73 L522.50,218.34 L522.85,218.95 L523.20,219.55 L523.56,220.15 L523.92,220.75 L524.28,221.35 L524.65,221.95 L525.02,222.54 L525.40,223.13 L525.78,223.72 L526.17,224.30 L526.57,224.88 L526.97,225.45 L527.38,226.02 L527.79,226.58 L528.21,227.14 L528.64,227.70 L529.08,228.24 L529.52,228.78 L529.98,229.31 L530.44,229.84 L530.91,230.36 L531.39,230.86 L531.89,231.36 L532.39,231.85 L532.90,232.33 L533.42,232.80 L533.95,233.25 L534.49,233.70 L535.04,234.13 L535.60,234.55 L536.17,234.95 L536.75,235.35 L537.34,235.72 L537.94,236.08 L538.55,236.43 L539.17,236.76 L539.79,237.08 L540.43,237.37 L541.07,237.66 L541.71,237.92 L542.37,238.17 L543.03,238.40 L543.69,238.62 L544.37,238.82 L545.04,239.00" stroke="#4a4a4a" stroke-width="1.3"/>
</g>
<rect x="6.5" y="3.3" width="539.5" height="278.4" fill="none" stroke="#666" stroke-width="1.4"/>
<g font-size="9.6"><text x="1.83" y="294.4" textLength="9.34" lengthAdjust="spacingAndGlyphs">30</text><text x="105.58" y="294.4" textLength="9.34" lengthAdjust="spacingAndGlyphs">35</text><text x="209.33" y="294.4" textLength="9.34" lengthAdjust="spacingAndGlyphs">40</text><text x="313.08" y="294.4" textLength="9.34" lengthAdjust="spacingAndGlyphs">45</text><text x="416.83" y="294.4" textLength="9.34" lengthAdjust="spacingAndGlyphs">50</text><text x="520.58" y="294.4" textLength="9.34" lengthAdjust="spacingAndGlyphs">55</text></g>
<text x="246.5" y="309.2" font-size="8.8" textLength="73.82" lengthAdjust="spacingAndGlyphs">Retention time (min)</text>
<g font-size="9.0">
<line x1="122.6" y1="324.0" x2="139" y2="324.0" stroke="#333" stroke-width="1.3"/>
<text x="141.9" y="326.8" textLength="30.53" lengthAdjust="spacingAndGlyphs">PE-SYN</text>
<line x1="185.2" y1="324.0" x2="190.6" y2="324.0" stroke="#555" stroke-width="1.4"/>
<line x1="192.3" y1="324.0" x2="193.6" y2="324.0" stroke="#aaa" stroke-width="1.3"/>
<line x1="195" y1="324.0" x2="196.4" y2="324.0" stroke="#aaa" stroke-width="1.3"/>
<line x1="198" y1="324.0" x2="203.3" y2="324.0" stroke="#555" stroke-width="1.4"/>
<text x="205.9" y="326.8" textLength="48.76" lengthAdjust="spacingAndGlyphs">PE-BIO-Succ</text>
<line x1="267.4" y1="324.0" x2="284.8" y2="324.0" stroke="#4a4a4a" stroke-width="1.4" stroke-dasharray="4.5 2"/>
<text x="287" y="326.8" textLength="45.12" lengthAdjust="spacingAndGlyphs">PE-BIO-Seb</text>
<line x1="345" y1="324.0" x2="362" y2="324.0" stroke="#3a3a3a" stroke-width="1.4" stroke-dasharray="1.4 1.05"/>
<text x="364.6" y="326.8" textLength="68.13" lengthAdjust="spacingAndGlyphs">PE-BIO-Succ+Seb</text>
</g>
</svg>
</body></html>
